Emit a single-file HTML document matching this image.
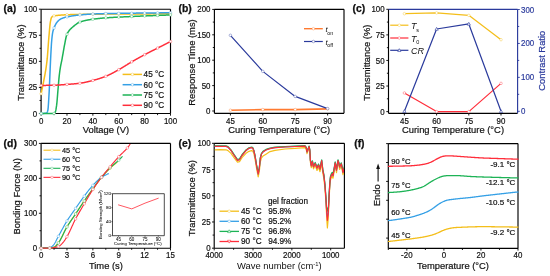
<!DOCTYPE html>
<html><head><meta charset="utf-8"><style>
html,body{margin:0;padding:0;background:#fff;}
svg{display:block;font-family:"Liberation Sans", sans-serif;filter:blur(0.25px);}
</style></head><body>
<svg width="550" height="276" viewBox="0 0 550 276">
<rect width="550" height="276" fill="#fff"/>
<line x1="41.10" y1="113.50" x2="170.50" y2="113.50" stroke="#000" stroke-width="1.15"/><line x1="41.10" y1="9.20" x2="41.10" y2="113.50" stroke="#000" stroke-width="1.15"/><line x1="41.10" y1="9.20" x2="170.50" y2="9.20" stroke="#000" stroke-width="1.15"/><line x1="170.50" y1="9.20" x2="170.50" y2="113.50" stroke="#000" stroke-width="1.15"/><line x1="41.10" y1="113.50" x2="41.10" y2="115.70" stroke="#000" stroke-width="0.9"/><line x1="66.98" y1="113.50" x2="66.98" y2="115.70" stroke="#000" stroke-width="0.9"/><line x1="92.86" y1="113.50" x2="92.86" y2="115.70" stroke="#000" stroke-width="0.9"/><line x1="118.74" y1="113.50" x2="118.74" y2="115.70" stroke="#000" stroke-width="0.9"/><line x1="144.62" y1="113.50" x2="144.62" y2="115.70" stroke="#000" stroke-width="0.9"/><line x1="170.50" y1="113.50" x2="170.50" y2="115.70" stroke="#000" stroke-width="0.9"/><line x1="54.04" y1="113.50" x2="54.04" y2="115.10" stroke="#000" stroke-width="0.9"/><line x1="79.92" y1="113.50" x2="79.92" y2="115.10" stroke="#000" stroke-width="0.9"/><line x1="105.80" y1="113.50" x2="105.80" y2="115.10" stroke="#000" stroke-width="0.9"/><line x1="131.68" y1="113.50" x2="131.68" y2="115.10" stroke="#000" stroke-width="0.9"/><line x1="157.56" y1="113.50" x2="157.56" y2="115.10" stroke="#000" stroke-width="0.9"/><text transform="translate(41.10 124.00) scale(0.92 1)" font-size="8.6" text-anchor="middle" fill="#111" stroke="#111" stroke-width="0.2">0</text><text transform="translate(66.98 124.00) scale(0.92 1)" font-size="8.6" text-anchor="middle" fill="#111" stroke="#111" stroke-width="0.2">20</text><text transform="translate(92.86 124.00) scale(0.92 1)" font-size="8.6" text-anchor="middle" fill="#111" stroke="#111" stroke-width="0.2">40</text><text transform="translate(118.74 124.00) scale(0.92 1)" font-size="8.6" text-anchor="middle" fill="#111" stroke="#111" stroke-width="0.2">60</text><text transform="translate(144.62 124.00) scale(0.92 1)" font-size="8.6" text-anchor="middle" fill="#111" stroke="#111" stroke-width="0.2">80</text><text transform="translate(170.50 124.00) scale(0.92 1)" font-size="8.6" text-anchor="middle" fill="#111" stroke="#111" stroke-width="0.2">100</text><line x1="41.10" y1="113.50" x2="38.90" y2="113.50" stroke="#000" stroke-width="0.9"/><line x1="41.10" y1="87.42" x2="38.90" y2="87.42" stroke="#000" stroke-width="0.9"/><line x1="41.10" y1="61.35" x2="38.90" y2="61.35" stroke="#000" stroke-width="0.9"/><line x1="41.10" y1="35.28" x2="38.90" y2="35.28" stroke="#000" stroke-width="0.9"/><line x1="41.10" y1="9.20" x2="38.90" y2="9.20" stroke="#000" stroke-width="0.9"/><line x1="41.10" y1="100.46" x2="39.50" y2="100.46" stroke="#000" stroke-width="0.9"/><line x1="41.10" y1="74.39" x2="39.50" y2="74.39" stroke="#000" stroke-width="0.9"/><line x1="41.10" y1="48.31" x2="39.50" y2="48.31" stroke="#000" stroke-width="0.9"/><line x1="41.10" y1="22.24" x2="39.50" y2="22.24" stroke="#000" stroke-width="0.9"/><text transform="translate(37.20 116.55) scale(0.92 1)" font-size="8.6" text-anchor="end" fill="#111" stroke="#111" stroke-width="0.2">0</text><text transform="translate(37.20 90.47) scale(0.92 1)" font-size="8.6" text-anchor="end" fill="#111" stroke="#111" stroke-width="0.2">25</text><text transform="translate(37.20 64.40) scale(0.92 1)" font-size="8.6" text-anchor="end" fill="#111" stroke="#111" stroke-width="0.2">50</text><text transform="translate(37.20 38.33) scale(0.92 1)" font-size="8.6" text-anchor="end" fill="#111" stroke="#111" stroke-width="0.2">75</text><text transform="translate(37.20 12.25) scale(0.92 1)" font-size="8.6" text-anchor="end" fill="#111" stroke="#111" stroke-width="0.2">100</text><text x="105.90" y="133.40" font-size="9.4" text-anchor="middle" fill="#111" stroke="#111" stroke-width="0.2" font-weight="normal" >Voltage (V)</text><text x="24.00" y="62.60" font-size="9.4" text-anchor="middle" fill="#111" stroke="#111" stroke-width="0.2" font-weight="normal" transform="rotate(-90 24.0 62.6)" >Transmittance (%)</text><text x="3.60" y="12.20" font-size="10.4" text-anchor="start" fill="#111" stroke="#111" stroke-width="0.25" font-weight="bold" >(a)</text><polyline points="41.10,93.79 41.42,92.23 41.75,90.70 42.07,89.18 42.39,87.66 42.72,86.11 43.04,84.52 43.36,82.88 43.69,81.17 44.01,79.43 44.34,77.72 44.66,76.01 44.98,74.26 45.31,72.45 45.63,70.55 45.95,68.52 46.28,66.34 46.60,63.98 46.92,61.40 47.25,58.45 47.57,54.66 47.89,50.32 48.22,45.76 48.54,41.33 48.86,37.36 49.19,33.61 49.51,29.83 49.83,26.32 50.16,23.40 50.48,21.38 50.80,19.82 51.13,18.51 51.45,17.56 51.78,17.06 52.10,16.77 52.42,16.53 52.75,16.34 53.07,16.18 53.39,16.05 53.72,15.95 54.04,15.88 54.36,15.81 54.69,15.75 55.01,15.70 55.33,15.64 55.66,15.60 55.98,15.55 56.30,15.51 56.63,15.48 56.95,15.44 57.28,15.41 57.60,15.38 57.92,15.35 58.25,15.32 58.57,15.30 58.89,15.27 59.22,15.25 59.54,15.22 59.86,15.20 60.19,15.17 60.51,15.15 60.83,15.12 61.16,15.09 61.48,15.07 61.80,15.04 62.13,15.02 62.45,14.99 62.77,14.97 63.10,14.94 63.42,14.92 63.75,14.90 64.07,14.88 64.39,14.86 64.72,14.84 65.04,14.82 65.36,14.80 65.69,14.78 66.01,14.77 66.33,14.75 66.66,14.74 66.98,14.73 67.30,14.72 67.63,14.70 67.95,14.69 68.27,14.68 68.60,14.67 68.92,14.66 69.24,14.65 69.57,14.64 69.89,14.63 70.22,14.62 70.54,14.61 70.86,14.60 71.19,14.59 71.51,14.59 71.83,14.58 72.16,14.57 72.48,14.56 72.80,14.55 73.13,14.55 73.45,14.54 73.77,14.53 74.10,14.52 74.42,14.52 74.74,14.51 75.07,14.50 75.39,14.50 75.71,14.49 76.04,14.48 76.36,14.48 76.69,14.47 77.01,14.47 77.33,14.46 77.66,14.45 77.98,14.45 78.30,14.44 78.63,14.44 78.95,14.43 79.27,14.43 79.60,14.42 79.92,14.42 80.24,14.41 80.57,14.40 80.89,14.40 81.21,14.39 81.54,14.39 81.86,14.38 82.18,14.38 82.51,14.37 82.83,14.37 83.16,14.36 83.48,14.36 83.80,14.35 84.13,14.35 84.45,14.34 84.77,14.34 85.10,14.33 85.42,14.33 85.74,14.32 86.07,14.32 86.39,14.31 86.71,14.31 87.04,14.30 87.36,14.30 87.68,14.30 88.01,14.29 88.33,14.29 88.65,14.28 88.98,14.28 89.30,14.27 89.62,14.27 89.95,14.26 90.27,14.26 90.60,14.26 90.92,14.25 91.24,14.25 91.57,14.24 91.89,14.24 92.21,14.24 92.54,14.23 92.86,14.23 93.18,14.22 93.51,14.22 93.83,14.22 94.15,14.21 94.48,14.21 94.80,14.21 95.12,14.20 95.45,14.20 95.77,14.19 96.09,14.19 96.42,14.19 96.74,14.18 97.07,14.18 97.39,14.18 97.71,14.17 98.04,14.17 98.36,14.17 98.68,14.16 99.01,14.16 99.33,14.16 99.65,14.15 99.98,14.15 100.30,14.15 100.62,14.15 100.95,14.14 101.27,14.14 101.59,14.14 101.92,14.13 102.24,14.13 102.56,14.13 102.89,14.13 103.21,14.12 103.54,14.12 103.86,14.12 104.18,14.11 104.51,14.11 104.83,14.11 105.15,14.11 105.48,14.10 105.80,14.10 106.12,14.10 106.45,14.10 106.77,14.10 107.09,14.09 107.42,14.09 107.74,14.09 108.06,14.09 108.39,14.08 108.71,14.08 109.03,14.08 109.36,14.08 109.68,14.07 110.01,14.07 110.33,14.07 110.65,14.07 110.98,14.07 111.30,14.06 111.62,14.06 111.95,14.06 112.27,14.06 112.59,14.06 112.92,14.05 113.24,14.05 113.56,14.05 113.89,14.05 114.21,14.05 114.53,14.04 114.86,14.04 115.18,14.04 115.50,14.04 115.83,14.04 116.15,14.03 116.48,14.03 116.80,14.03 117.12,14.03 117.45,14.03 117.77,14.02 118.09,14.02 118.42,14.02 118.74,14.02 119.06,14.02 119.39,14.01 119.71,14.01 120.03,14.01 120.36,14.01 120.68,14.01 121.00,14.01 121.33,14.00 121.65,14.00 121.97,14.00 122.30,14.00 122.62,14.00 122.95,14.00 123.27,13.99 123.59,13.99 123.92,13.99 124.24,13.99 124.56,13.99 124.89,13.99 125.21,13.98 125.53,13.98 125.86,13.98 126.18,13.98 126.50,13.98 126.83,13.98 127.15,13.97 127.47,13.97 127.80,13.97 128.12,13.97 128.44,13.97 128.77,13.97 129.09,13.97 129.42,13.96 129.74,13.96 130.06,13.96 130.39,13.96 130.71,13.96 131.03,13.96 131.36,13.95 131.68,13.95 132.00,13.95 132.33,13.95 132.65,13.95 132.97,13.95 133.30,13.95 133.62,13.94 133.94,13.94 134.27,13.94 134.59,13.94 134.91,13.94 135.24,13.94 135.56,13.94 135.89,13.93 136.21,13.93 136.53,13.93 136.86,13.93 137.18,13.93 137.50,13.93 137.83,13.93 138.15,13.93 138.47,13.92 138.80,13.92 139.12,13.92 139.44,13.92 139.77,13.92 140.09,13.92 140.41,13.92 140.74,13.91 141.06,13.91 141.38,13.91 141.71,13.91 142.03,13.91 142.36,13.91 142.68,13.91 143.00,13.91 143.33,13.90 143.65,13.90 143.97,13.90 144.30,13.90 144.62,13.90 144.94,13.90 145.27,13.90 145.59,13.89 145.91,13.89 146.24,13.89 146.56,13.89 146.88,13.89 147.21,13.89 147.53,13.89 147.86,13.89 148.18,13.88 148.50,13.88 148.83,13.88 149.15,13.88 149.47,13.88 149.80,13.88 150.12,13.88 150.44,13.88 150.77,13.87 151.09,13.87 151.41,13.87 151.74,13.87 152.06,13.87 152.38,13.87 152.71,13.87 153.03,13.86 153.35,13.86 153.68,13.86 154.00,13.86 154.33,13.86 154.65,13.86 154.97,13.86 155.30,13.86 155.62,13.85 155.94,13.85 156.27,13.85 156.59,13.85 156.91,13.85 157.24,13.85 157.56,13.85 157.88,13.85 158.21,13.84 158.53,13.84 158.85,13.84 159.18,13.84 159.50,13.84 159.82,13.84 160.15,13.84 160.47,13.83 160.80,13.83 161.12,13.83 161.44,13.83 161.77,13.83 162.09,13.83 162.41,13.83 162.74,13.82 163.06,13.82 163.38,13.82 163.71,13.82 164.03,13.82 164.35,13.82 164.68,13.82 165.00,13.81 165.32,13.81 165.65,13.81 165.97,13.81 166.29,13.81 166.62,13.81 166.94,13.81 167.27,13.80 167.59,13.80 167.91,13.80 168.24,13.80 168.56,13.80 168.88,13.80 169.21,13.80 169.53,13.79 169.85,13.79 170.18,13.79 170.50,13.79" fill="none" stroke="#f4be1a" stroke-width="1.5" stroke-linejoin="round" stroke-linecap="round" /><polyline points="41.10,113.50 41.42,113.48 41.75,113.47 42.07,113.45 42.39,113.44 42.72,113.43 43.04,113.42 43.36,113.41 43.69,113.40 44.01,113.38 44.34,113.37 44.66,113.35 44.98,113.32 45.31,113.30 45.63,113.27 45.95,113.23 46.28,113.19 46.60,113.02 46.92,112.61 47.25,111.99 47.57,111.16 47.89,110.10 48.22,107.31 48.54,102.71 48.86,97.17 49.19,91.50 49.51,84.73 49.83,76.89 50.16,68.88 50.48,61.60 50.80,55.26 51.13,49.16 51.45,43.83 51.78,39.80 52.10,36.63 52.42,34.04 52.75,32.15 53.07,30.80 53.39,29.71 53.72,28.81 54.04,27.97 54.36,27.17 54.69,26.39 55.01,25.66 55.33,24.97 55.66,24.33 55.98,23.74 56.30,23.22 56.63,22.76 56.95,22.34 57.28,21.94 57.60,21.57 57.92,21.21 58.25,20.87 58.57,20.55 58.89,20.25 59.22,19.98 59.54,19.72 59.86,19.49 60.19,19.29 60.51,19.11 60.83,18.94 61.16,18.79 61.48,18.64 61.80,18.50 62.13,18.36 62.45,18.23 62.77,18.11 63.10,17.99 63.42,17.88 63.75,17.77 64.07,17.67 64.39,17.57 64.72,17.48 65.04,17.39 65.36,17.30 65.69,17.22 66.01,17.14 66.33,17.06 66.66,16.99 66.98,16.92 67.30,16.85 67.63,16.78 67.95,16.71 68.27,16.64 68.60,16.58 68.92,16.51 69.24,16.45 69.57,16.39 69.89,16.33 70.22,16.27 70.54,16.21 70.86,16.15 71.19,16.10 71.51,16.04 71.83,15.99 72.16,15.93 72.48,15.88 72.80,15.83 73.13,15.78 73.45,15.73 73.77,15.68 74.10,15.64 74.42,15.59 74.74,15.54 75.07,15.50 75.39,15.46 75.71,15.41 76.04,15.37 76.36,15.33 76.69,15.29 77.01,15.25 77.33,15.21 77.66,15.18 77.98,15.14 78.30,15.10 78.63,15.07 78.95,15.04 79.27,15.00 79.60,14.97 79.92,14.94 80.24,14.90 80.57,14.87 80.89,14.84 81.21,14.81 81.54,14.78 81.86,14.75 82.18,14.72 82.51,14.69 82.83,14.67 83.16,14.64 83.48,14.61 83.80,14.58 84.13,14.56 84.45,14.53 84.77,14.50 85.10,14.48 85.42,14.45 85.74,14.43 86.07,14.40 86.39,14.38 86.71,14.36 87.04,14.33 87.36,14.31 87.68,14.29 88.01,14.27 88.33,14.25 88.65,14.23 88.98,14.21 89.30,14.19 89.62,14.17 89.95,14.15 90.27,14.13 90.60,14.11 90.92,14.09 91.24,14.08 91.57,14.06 91.89,14.04 92.21,14.03 92.54,14.01 92.86,14.00 93.18,13.98 93.51,13.97 93.83,13.96 94.15,13.94 94.48,13.93 94.80,13.91 95.12,13.90 95.45,13.89 95.77,13.88 96.09,13.86 96.42,13.85 96.74,13.84 97.07,13.83 97.39,13.82 97.71,13.80 98.04,13.79 98.36,13.78 98.68,13.77 99.01,13.76 99.33,13.75 99.65,13.74 99.98,13.73 100.30,13.72 100.62,13.71 100.95,13.70 101.27,13.69 101.59,13.68 101.92,13.67 102.24,13.66 102.56,13.66 102.89,13.65 103.21,13.64 103.54,13.63 103.86,13.62 104.18,13.62 104.51,13.61 104.83,13.60 105.15,13.59 105.48,13.59 105.80,13.58 106.12,13.57 106.45,13.57 106.77,13.56 107.09,13.55 107.42,13.55 107.74,13.54 108.06,13.54 108.39,13.53 108.71,13.52 109.03,13.52 109.36,13.51 109.68,13.50 110.01,13.50 110.33,13.49 110.65,13.49 110.98,13.48 111.30,13.48 111.62,13.47 111.95,13.46 112.27,13.46 112.59,13.45 112.92,13.45 113.24,13.44 113.56,13.44 113.89,13.43 114.21,13.42 114.53,13.42 114.86,13.41 115.18,13.41 115.50,13.40 115.83,13.40 116.15,13.39 116.48,13.39 116.80,13.38 117.12,13.38 117.45,13.37 117.77,13.37 118.09,13.36 118.42,13.36 118.74,13.35 119.06,13.35 119.39,13.34 119.71,13.34 120.03,13.33 120.36,13.33 120.68,13.32 121.00,13.32 121.33,13.31 121.65,13.31 121.97,13.30 122.30,13.30 122.62,13.29 122.95,13.29 123.27,13.29 123.59,13.28 123.92,13.28 124.24,13.27 124.56,13.27 124.89,13.26 125.21,13.26 125.53,13.25 125.86,13.25 126.18,13.25 126.50,13.24 126.83,13.24 127.15,13.23 127.47,13.23 127.80,13.23 128.12,13.22 128.44,13.22 128.77,13.21 129.09,13.21 129.42,13.20 129.74,13.20 130.06,13.20 130.39,13.19 130.71,13.19 131.03,13.19 131.36,13.18 131.68,13.18 132.00,13.17 132.33,13.17 132.65,13.17 132.97,13.16 133.30,13.16 133.62,13.15 133.94,13.15 134.27,13.15 134.59,13.14 134.91,13.14 135.24,13.14 135.56,13.13 135.89,13.13 136.21,13.12 136.53,13.12 136.86,13.12 137.18,13.11 137.50,13.11 137.83,13.11 138.15,13.10 138.47,13.10 138.80,13.10 139.12,13.09 139.44,13.09 139.77,13.09 140.09,13.08 140.41,13.08 140.74,13.07 141.06,13.07 141.38,13.07 141.71,13.06 142.03,13.06 142.36,13.06 142.68,13.05 143.00,13.05 143.33,13.05 143.65,13.04 143.97,13.04 144.30,13.04 144.62,13.03 144.94,13.03 145.27,13.03 145.59,13.02 145.91,13.02 146.24,13.02 146.56,13.01 146.88,13.01 147.21,13.01 147.53,13.00 147.86,13.00 148.18,13.00 148.50,12.99 148.83,12.99 149.15,12.99 149.47,12.98 149.80,12.98 150.12,12.98 150.44,12.97 150.77,12.97 151.09,12.97 151.41,12.96 151.74,12.96 152.06,12.96 152.38,12.95 152.71,12.95 153.03,12.95 153.35,12.94 153.68,12.94 154.00,12.94 154.33,12.93 154.65,12.93 154.97,12.93 155.30,12.92 155.62,12.92 155.94,12.91 156.27,12.91 156.59,12.91 156.91,12.90 157.24,12.90 157.56,12.90 157.88,12.89 158.21,12.89 158.53,12.89 158.85,12.88 159.18,12.88 159.50,12.88 159.82,12.87 160.15,12.87 160.47,12.87 160.80,12.86 161.12,12.86 161.44,12.85 161.77,12.85 162.09,12.85 162.41,12.84 162.74,12.84 163.06,12.84 163.38,12.83 163.71,12.83 164.03,12.83 164.35,12.82 164.68,12.82 165.00,12.81 165.32,12.81 165.65,12.81 165.97,12.80 166.29,12.80 166.62,12.79 166.94,12.79 167.27,12.79 167.59,12.78 167.91,12.78 168.24,12.77 168.56,12.77 168.88,12.77 169.21,12.76 169.53,12.76 169.85,12.75 170.18,12.75 170.50,12.75" fill="none" stroke="#35a0e6" stroke-width="1.5" stroke-linejoin="round" stroke-linecap="round" /><polyline points="41.10,113.50 41.42,113.50 41.75,113.50 42.07,113.50 42.39,113.50 42.72,113.50 43.04,113.50 43.36,113.50 43.69,113.50 44.01,113.50 44.34,113.50 44.66,113.50 44.98,113.50 45.31,113.50 45.63,113.50 45.95,113.50 46.28,113.50 46.60,113.50 46.92,113.50 47.25,113.50 47.57,113.50 47.89,113.50 48.22,113.50 48.54,113.50 48.86,113.50 49.19,113.50 49.51,113.50 49.83,113.50 50.16,113.50 50.48,113.50 50.80,113.50 51.13,113.50 51.45,113.50 51.78,113.50 52.10,113.50 52.42,113.50 52.75,113.50 53.07,113.50 53.39,113.50 53.72,113.50 54.04,113.50 54.36,113.37 54.69,113.04 55.01,112.54 55.33,111.94 55.66,110.95 55.98,109.39 56.30,107.40 56.63,105.16 56.95,102.26 57.28,98.52 57.60,94.45 57.92,90.55 58.25,86.75 58.57,82.86 58.89,79.16 59.22,75.95 59.54,73.23 59.86,70.77 60.19,68.55 60.51,66.56 60.83,64.85 61.16,63.34 61.48,61.88 61.80,60.31 62.13,58.56 62.45,56.73 62.77,54.86 63.10,53.01 63.42,51.14 63.75,49.26 64.07,47.42 64.39,45.70 64.72,44.04 65.04,42.33 65.36,40.64 65.69,39.01 66.01,37.50 66.33,36.17 66.66,35.06 66.98,34.23 67.30,33.58 67.63,32.98 67.95,32.41 68.27,31.88 68.60,31.39 68.92,30.93 69.24,30.50 69.57,30.09 69.89,29.71 70.22,29.35 70.54,29.01 70.86,28.69 71.19,28.38 71.51,28.08 71.83,27.79 72.16,27.51 72.48,27.24 72.80,26.96 73.13,26.69 73.45,26.41 73.77,26.13 74.10,25.85 74.42,25.58 74.74,25.31 75.07,25.04 75.39,24.78 75.71,24.52 76.04,24.28 76.36,24.03 76.69,23.80 77.01,23.57 77.33,23.36 77.66,23.15 77.98,22.95 78.30,22.77 78.63,22.59 78.95,22.43 79.27,22.28 79.60,22.15 79.92,22.03 80.24,21.92 80.57,21.81 80.89,21.70 81.21,21.60 81.54,21.50 81.86,21.40 82.18,21.31 82.51,21.22 82.83,21.13 83.16,21.04 83.48,20.95 83.80,20.87 84.13,20.79 84.45,20.71 84.77,20.64 85.10,20.56 85.42,20.49 85.74,20.42 86.07,20.35 86.39,20.28 86.71,20.22 87.04,20.16 87.36,20.09 87.68,20.03 88.01,19.97 88.33,19.92 88.65,19.86 88.98,19.81 89.30,19.75 89.62,19.70 89.95,19.65 90.27,19.60 90.60,19.55 90.92,19.50 91.24,19.45 91.57,19.40 91.89,19.35 92.21,19.31 92.54,19.26 92.86,19.21 93.18,19.17 93.51,19.12 93.83,19.08 94.15,19.04 94.48,18.99 94.80,18.95 95.12,18.91 95.45,18.87 95.77,18.83 96.09,18.79 96.42,18.75 96.74,18.71 97.07,18.67 97.39,18.63 97.71,18.60 98.04,18.56 98.36,18.53 98.68,18.49 99.01,18.46 99.33,18.42 99.65,18.39 99.98,18.36 100.30,18.33 100.62,18.29 100.95,18.26 101.27,18.23 101.59,18.20 101.92,18.17 102.24,18.14 102.56,18.11 102.89,18.09 103.21,18.06 103.54,18.03 103.86,18.01 104.18,17.98 104.51,17.95 104.83,17.93 105.15,17.90 105.48,17.88 105.80,17.86 106.12,17.83 106.45,17.81 106.77,17.79 107.09,17.77 107.42,17.74 107.74,17.72 108.06,17.70 108.39,17.68 108.71,17.66 109.03,17.64 109.36,17.61 109.68,17.59 110.01,17.57 110.33,17.55 110.65,17.53 110.98,17.51 111.30,17.49 111.62,17.47 111.95,17.46 112.27,17.44 112.59,17.42 112.92,17.40 113.24,17.38 113.56,17.36 113.89,17.34 114.21,17.33 114.53,17.31 114.86,17.29 115.18,17.27 115.50,17.26 115.83,17.24 116.15,17.22 116.48,17.21 116.80,17.19 117.12,17.17 117.45,17.16 117.77,17.14 118.09,17.12 118.42,17.11 118.74,17.09 119.06,17.08 119.39,17.06 119.71,17.05 120.03,17.03 120.36,17.02 120.68,17.00 121.00,16.98 121.33,16.97 121.65,16.95 121.97,16.94 122.30,16.92 122.62,16.91 122.95,16.89 123.27,16.88 123.59,16.87 123.92,16.85 124.24,16.84 124.56,16.82 124.89,16.81 125.21,16.79 125.53,16.78 125.86,16.76 126.18,16.75 126.50,16.73 126.83,16.72 127.15,16.71 127.47,16.69 127.80,16.68 128.12,16.66 128.44,16.65 128.77,16.63 129.09,16.62 129.42,16.60 129.74,16.59 130.06,16.57 130.39,16.56 130.71,16.55 131.03,16.53 131.36,16.52 131.68,16.50 132.00,16.49 132.33,16.47 132.65,16.46 132.97,16.44 133.30,16.43 133.62,16.41 133.94,16.40 134.27,16.38 134.59,16.37 134.91,16.36 135.24,16.34 135.56,16.33 135.89,16.31 136.21,16.30 136.53,16.28 136.86,16.27 137.18,16.26 137.50,16.24 137.83,16.23 138.15,16.21 138.47,16.20 138.80,16.19 139.12,16.17 139.44,16.16 139.77,16.15 140.09,16.13 140.41,16.12 140.74,16.11 141.06,16.09 141.38,16.08 141.71,16.07 142.03,16.05 142.36,16.04 142.68,16.03 143.00,16.01 143.33,16.00 143.65,15.99 143.97,15.97 144.30,15.96 144.62,15.95 144.94,15.93 145.27,15.92 145.59,15.91 145.91,15.90 146.24,15.88 146.56,15.87 146.88,15.86 147.21,15.84 147.53,15.83 147.86,15.82 148.18,15.81 148.50,15.79 148.83,15.78 149.15,15.77 149.47,15.75 149.80,15.74 150.12,15.73 150.44,15.72 150.77,15.70 151.09,15.69 151.41,15.68 151.74,15.67 152.06,15.65 152.38,15.64 152.71,15.63 153.03,15.62 153.35,15.60 153.68,15.59 154.00,15.58 154.33,15.57 154.65,15.55 154.97,15.54 155.30,15.53 155.62,15.52 155.94,15.50 156.27,15.49 156.59,15.48 156.91,15.47 157.24,15.45 157.56,15.44 157.88,15.43 158.21,15.42 158.53,15.40 158.85,15.39 159.18,15.38 159.50,15.37 159.82,15.35 160.15,15.34 160.47,15.33 160.80,15.32 161.12,15.30 161.44,15.29 161.77,15.28 162.09,15.27 162.41,15.25 162.74,15.24 163.06,15.23 163.38,15.22 163.71,15.20 164.03,15.19 164.35,15.18 164.68,15.17 165.00,15.15 165.32,15.14 165.65,15.13 165.97,15.12 166.29,15.10 166.62,15.09 166.94,15.08 167.27,15.07 167.59,15.05 167.91,15.04 168.24,15.03 168.56,15.01 168.88,15.00 169.21,14.99 169.53,14.98 169.85,14.96 170.18,14.95 170.50,14.94" fill="none" stroke="#1db356" stroke-width="1.5" stroke-linejoin="round" stroke-linecap="round" /><polyline points="41.10,85.44 41.42,85.44 41.75,85.43 42.07,85.43 42.39,85.42 42.72,85.42 43.04,85.41 43.36,85.41 43.69,85.41 44.01,85.40 44.34,85.40 44.66,85.39 44.98,85.39 45.31,85.38 45.63,85.38 45.95,85.38 46.28,85.37 46.60,85.37 46.92,85.36 47.25,85.36 47.57,85.35 47.89,85.35 48.22,85.35 48.54,85.34 48.86,85.34 49.19,85.33 49.51,85.33 49.83,85.32 50.16,85.32 50.48,85.31 50.80,85.30 51.13,85.30 51.45,85.29 51.78,85.29 52.10,85.28 52.42,85.27 52.75,85.27 53.07,85.26 53.39,85.25 53.72,85.24 54.04,85.23 54.36,85.23 54.69,85.22 55.01,85.20 55.33,85.19 55.66,85.18 55.98,85.17 56.30,85.15 56.63,85.14 56.95,85.12 57.28,85.10 57.60,85.08 57.92,85.07 58.25,85.05 58.57,85.03 58.89,85.01 59.22,84.99 59.54,84.96 59.86,84.94 60.19,84.92 60.51,84.90 60.83,84.87 61.16,84.85 61.48,84.83 61.80,84.80 62.13,84.78 62.45,84.75 62.77,84.73 63.10,84.70 63.42,84.68 63.75,84.65 64.07,84.63 64.39,84.60 64.72,84.57 65.04,84.55 65.36,84.52 65.69,84.50 66.01,84.47 66.33,84.45 66.66,84.42 66.98,84.40 67.30,84.38 67.63,84.35 67.95,84.33 68.27,84.30 68.60,84.28 68.92,84.26 69.24,84.23 69.57,84.21 69.89,84.19 70.22,84.16 70.54,84.14 70.86,84.11 71.19,84.09 71.51,84.06 71.83,84.04 72.16,84.01 72.48,83.99 72.80,83.96 73.13,83.94 73.45,83.91 73.77,83.88 74.10,83.86 74.42,83.83 74.74,83.80 75.07,83.77 75.39,83.74 75.71,83.71 76.04,83.68 76.36,83.65 76.69,83.62 77.01,83.58 77.33,83.55 77.66,83.52 77.98,83.48 78.30,83.45 78.63,83.41 78.95,83.37 79.27,83.33 79.60,83.29 79.92,83.25 80.24,83.21 80.57,83.17 80.89,83.12 81.21,83.07 81.54,83.02 81.86,82.97 82.18,82.92 82.51,82.86 82.83,82.80 83.16,82.74 83.48,82.68 83.80,82.62 84.13,82.55 84.45,82.49 84.77,82.42 85.10,82.35 85.42,82.28 85.74,82.21 86.07,82.14 86.39,82.06 86.71,81.99 87.04,81.91 87.36,81.83 87.68,81.76 88.01,81.68 88.33,81.60 88.65,81.52 88.98,81.44 89.30,81.36 89.62,81.27 89.95,81.19 90.27,81.11 90.60,81.02 90.92,80.94 91.24,80.86 91.57,80.77 91.89,80.69 92.21,80.61 92.54,80.52 92.86,80.44 93.18,80.35 93.51,80.27 93.83,80.18 94.15,80.09 94.48,80.01 94.80,79.92 95.12,79.83 95.45,79.74 95.77,79.64 96.09,79.55 96.42,79.46 96.74,79.36 97.07,79.27 97.39,79.17 97.71,79.07 98.04,78.97 98.36,78.87 98.68,78.77 99.01,78.67 99.33,78.57 99.65,78.46 99.98,78.36 100.30,78.25 100.62,78.15 100.95,78.04 101.27,77.93 101.59,77.82 101.92,77.70 102.24,77.59 102.56,77.48 102.89,77.36 103.21,77.24 103.54,77.13 103.86,77.01 104.18,76.89 104.51,76.76 104.83,76.64 105.15,76.52 105.48,76.39 105.80,76.26 106.12,76.14 106.45,76.00 106.77,75.87 107.09,75.73 107.42,75.59 107.74,75.45 108.06,75.30 108.39,75.16 108.71,75.01 109.03,74.86 109.36,74.70 109.68,74.55 110.01,74.39 110.33,74.23 110.65,74.07 110.98,73.90 111.30,73.74 111.62,73.57 111.95,73.40 112.27,73.23 112.59,73.06 112.92,72.89 113.24,72.72 113.56,72.55 113.89,72.37 114.21,72.20 114.53,72.02 114.86,71.84 115.18,71.66 115.50,71.49 115.83,71.31 116.15,71.13 116.48,70.95 116.80,70.77 117.12,70.59 117.45,70.41 117.77,70.23 118.09,70.05 118.42,69.87 118.74,69.69 119.06,69.51 119.39,69.33 119.71,69.15 120.03,68.96 120.36,68.78 120.68,68.59 121.00,68.40 121.33,68.21 121.65,68.01 121.97,67.82 122.30,67.62 122.62,67.43 122.95,67.23 123.27,67.03 123.59,66.83 123.92,66.63 124.24,66.43 124.56,66.23 124.89,66.03 125.21,65.83 125.53,65.63 125.86,65.42 126.18,65.22 126.50,65.02 126.83,64.82 127.15,64.62 127.47,64.41 127.80,64.21 128.12,64.01 128.44,63.81 128.77,63.61 129.09,63.42 129.42,63.22 129.74,63.02 130.06,62.83 130.39,62.63 130.71,62.44 131.03,62.25 131.36,62.06 131.68,61.87 132.00,61.68 132.33,61.50 132.65,61.31 132.97,61.12 133.30,60.94 133.62,60.75 133.94,60.57 134.27,60.38 134.59,60.20 134.91,60.01 135.24,59.83 135.56,59.65 135.89,59.46 136.21,59.28 136.53,59.10 136.86,58.92 137.18,58.74 137.50,58.56 137.83,58.38 138.15,58.19 138.47,58.01 138.80,57.84 139.12,57.66 139.44,57.48 139.77,57.30 140.09,57.12 140.41,56.94 140.74,56.77 141.06,56.59 141.38,56.41 141.71,56.24 142.03,56.06 142.36,55.89 142.68,55.71 143.00,55.54 143.33,55.37 143.65,55.19 143.97,55.02 144.30,54.85 144.62,54.67 144.94,54.50 145.27,54.33 145.59,54.16 145.91,53.99 146.24,53.82 146.56,53.66 146.88,53.49 147.21,53.32 147.53,53.16 147.86,52.99 148.18,52.82 148.50,52.66 148.83,52.50 149.15,52.33 149.47,52.17 149.80,52.00 150.12,51.84 150.44,51.68 150.77,51.51 151.09,51.35 151.41,51.19 151.74,51.03 152.06,50.87 152.38,50.70 152.71,50.54 153.03,50.38 153.35,50.22 153.68,50.06 154.00,49.89 154.33,49.73 154.65,49.57 154.97,49.41 155.30,49.25 155.62,49.08 155.94,48.92 156.27,48.76 156.59,48.60 156.91,48.43 157.24,48.27 157.56,48.10 157.88,47.94 158.21,47.78 158.53,47.61 158.85,47.45 159.18,47.28 159.50,47.12 159.82,46.95 160.15,46.79 160.47,46.63 160.80,46.46 161.12,46.30 161.44,46.13 161.77,45.97 162.09,45.80 162.41,45.64 162.74,45.48 163.06,45.31 163.38,45.15 163.71,44.98 164.03,44.82 164.35,44.65 164.68,44.49 165.00,44.33 165.32,44.16 165.65,44.00 165.97,43.83 166.29,43.67 166.62,43.50 166.94,43.34 167.27,43.18 167.59,43.01 167.91,42.85 168.24,42.68 168.56,42.52 168.88,42.35 169.21,42.19 169.53,42.03 169.85,41.86 170.18,41.70 170.50,41.53" fill="none" stroke="#ff2d3a" stroke-width="1.5" stroke-linejoin="round" stroke-linecap="round" /><circle cx="41.10" cy="93.79" r="1.3" fill="#fff" stroke="#f4be1a" stroke-opacity="0.6" stroke-width="0.6"/><circle cx="54.04" cy="15.88" r="1.3" fill="#fff" stroke="#f4be1a" stroke-opacity="0.6" stroke-width="0.6"/><circle cx="66.98" cy="14.73" r="1.3" fill="#fff" stroke="#f4be1a" stroke-opacity="0.6" stroke-width="0.6"/><circle cx="79.92" cy="14.42" r="1.3" fill="#fff" stroke="#f4be1a" stroke-opacity="0.6" stroke-width="0.6"/><circle cx="92.86" cy="14.23" r="1.3" fill="#fff" stroke="#f4be1a" stroke-opacity="0.6" stroke-width="0.6"/><circle cx="105.80" cy="14.10" r="1.3" fill="#fff" stroke="#f4be1a" stroke-opacity="0.6" stroke-width="0.6"/><circle cx="118.74" cy="14.02" r="1.3" fill="#fff" stroke="#f4be1a" stroke-opacity="0.6" stroke-width="0.6"/><circle cx="131.68" cy="13.95" r="1.3" fill="#fff" stroke="#f4be1a" stroke-opacity="0.6" stroke-width="0.6"/><circle cx="144.62" cy="13.90" r="1.3" fill="#fff" stroke="#f4be1a" stroke-opacity="0.6" stroke-width="0.6"/><circle cx="157.56" cy="13.85" r="1.3" fill="#fff" stroke="#f4be1a" stroke-opacity="0.6" stroke-width="0.6"/><circle cx="170.50" cy="13.79" r="1.3" fill="#fff" stroke="#f4be1a" stroke-opacity="0.6" stroke-width="0.6"/><circle cx="41.10" cy="113.50" r="1.3" fill="#fff" stroke="#35a0e6" stroke-opacity="0.6" stroke-width="0.6"/><circle cx="54.04" cy="27.97" r="1.3" fill="#fff" stroke="#35a0e6" stroke-opacity="0.6" stroke-width="0.6"/><circle cx="66.98" cy="16.92" r="1.3" fill="#fff" stroke="#35a0e6" stroke-opacity="0.6" stroke-width="0.6"/><circle cx="79.92" cy="14.94" r="1.3" fill="#fff" stroke="#35a0e6" stroke-opacity="0.6" stroke-width="0.6"/><circle cx="92.86" cy="14.00" r="1.3" fill="#fff" stroke="#35a0e6" stroke-opacity="0.6" stroke-width="0.6"/><circle cx="105.80" cy="13.58" r="1.3" fill="#fff" stroke="#35a0e6" stroke-opacity="0.6" stroke-width="0.6"/><circle cx="118.74" cy="13.35" r="1.3" fill="#fff" stroke="#35a0e6" stroke-opacity="0.6" stroke-width="0.6"/><circle cx="131.68" cy="13.18" r="1.3" fill="#fff" stroke="#35a0e6" stroke-opacity="0.6" stroke-width="0.6"/><circle cx="144.62" cy="13.03" r="1.3" fill="#fff" stroke="#35a0e6" stroke-opacity="0.6" stroke-width="0.6"/><circle cx="157.56" cy="12.90" r="1.3" fill="#fff" stroke="#35a0e6" stroke-opacity="0.6" stroke-width="0.6"/><circle cx="170.50" cy="12.75" r="1.3" fill="#fff" stroke="#35a0e6" stroke-opacity="0.6" stroke-width="0.6"/><circle cx="41.10" cy="113.50" r="1.3" fill="#fff" stroke="#1db356" stroke-opacity="0.6" stroke-width="0.6"/><circle cx="54.04" cy="113.50" r="1.3" fill="#fff" stroke="#1db356" stroke-opacity="0.6" stroke-width="0.6"/><circle cx="66.98" cy="34.23" r="1.3" fill="#fff" stroke="#1db356" stroke-opacity="0.6" stroke-width="0.6"/><circle cx="79.92" cy="22.03" r="1.3" fill="#fff" stroke="#1db356" stroke-opacity="0.6" stroke-width="0.6"/><circle cx="92.86" cy="19.21" r="1.3" fill="#fff" stroke="#1db356" stroke-opacity="0.6" stroke-width="0.6"/><circle cx="105.80" cy="17.86" r="1.3" fill="#fff" stroke="#1db356" stroke-opacity="0.6" stroke-width="0.6"/><circle cx="118.74" cy="17.09" r="1.3" fill="#fff" stroke="#1db356" stroke-opacity="0.6" stroke-width="0.6"/><circle cx="131.68" cy="16.50" r="1.3" fill="#fff" stroke="#1db356" stroke-opacity="0.6" stroke-width="0.6"/><circle cx="144.62" cy="15.95" r="1.3" fill="#fff" stroke="#1db356" stroke-opacity="0.6" stroke-width="0.6"/><circle cx="157.56" cy="15.44" r="1.3" fill="#fff" stroke="#1db356" stroke-opacity="0.6" stroke-width="0.6"/><circle cx="170.50" cy="14.94" r="1.3" fill="#fff" stroke="#1db356" stroke-opacity="0.6" stroke-width="0.6"/><circle cx="41.10" cy="85.44" r="1.3" fill="#fff" stroke="#ff2d3a" stroke-opacity="0.6" stroke-width="0.6"/><circle cx="54.04" cy="85.23" r="1.3" fill="#fff" stroke="#ff2d3a" stroke-opacity="0.6" stroke-width="0.6"/><circle cx="66.98" cy="84.40" r="1.3" fill="#fff" stroke="#ff2d3a" stroke-opacity="0.6" stroke-width="0.6"/><circle cx="79.92" cy="83.25" r="1.3" fill="#fff" stroke="#ff2d3a" stroke-opacity="0.6" stroke-width="0.6"/><circle cx="92.86" cy="80.44" r="1.3" fill="#fff" stroke="#ff2d3a" stroke-opacity="0.6" stroke-width="0.6"/><circle cx="105.80" cy="76.26" r="1.3" fill="#fff" stroke="#ff2d3a" stroke-opacity="0.6" stroke-width="0.6"/><circle cx="118.74" cy="69.69" r="1.3" fill="#fff" stroke="#ff2d3a" stroke-opacity="0.6" stroke-width="0.6"/><circle cx="131.68" cy="61.87" r="1.3" fill="#fff" stroke="#ff2d3a" stroke-opacity="0.6" stroke-width="0.6"/><circle cx="144.62" cy="54.67" r="1.3" fill="#fff" stroke="#ff2d3a" stroke-opacity="0.6" stroke-width="0.6"/><circle cx="157.56" cy="48.10" r="1.3" fill="#fff" stroke="#ff2d3a" stroke-opacity="0.6" stroke-width="0.6"/><circle cx="170.50" cy="41.53" r="1.3" fill="#fff" stroke="#ff2d3a" stroke-opacity="0.6" stroke-width="0.6"/><line x1="122.60" y1="74.40" x2="142.00" y2="74.40" stroke="#f4be1a" stroke-width="1.5"/><circle cx="132.40" cy="74.40" r="1.3" fill="#fff" stroke="#f4be1a" stroke-opacity="0.6" stroke-width="0.6"/><text x="143.60" y="77.30" font-size="8.2" text-anchor="start" fill="#111" stroke="#111" stroke-width="0.2" font-weight="normal" >45 °C</text><line x1="122.60" y1="84.70" x2="142.00" y2="84.70" stroke="#35a0e6" stroke-width="1.5"/><circle cx="132.40" cy="84.70" r="1.3" fill="#fff" stroke="#35a0e6" stroke-opacity="0.6" stroke-width="0.6"/><text x="143.60" y="87.60" font-size="8.2" text-anchor="start" fill="#111" stroke="#111" stroke-width="0.2" font-weight="normal" >60 °C</text><line x1="122.60" y1="95.00" x2="142.00" y2="95.00" stroke="#1db356" stroke-width="1.5"/><circle cx="132.40" cy="95.00" r="1.3" fill="#fff" stroke="#1db356" stroke-opacity="0.6" stroke-width="0.6"/><text x="143.60" y="97.90" font-size="8.2" text-anchor="start" fill="#111" stroke="#111" stroke-width="0.2" font-weight="normal" >75 °C</text><line x1="122.60" y1="105.30" x2="142.00" y2="105.30" stroke="#ff2d3a" stroke-width="1.5"/><circle cx="132.40" cy="105.30" r="1.3" fill="#fff" stroke="#ff2d3a" stroke-opacity="0.6" stroke-width="0.6"/><text x="143.60" y="108.20" font-size="8.2" text-anchor="start" fill="#111" stroke="#111" stroke-width="0.2" font-weight="normal" >90 °C</text><line x1="214.40" y1="113.30" x2="344.00" y2="113.30" stroke="#000" stroke-width="1.15"/><line x1="214.40" y1="9.30" x2="214.40" y2="113.30" stroke="#000" stroke-width="1.15"/><line x1="214.40" y1="9.30" x2="344.00" y2="9.30" stroke="#000" stroke-width="1.15"/><line x1="344.00" y1="9.30" x2="344.00" y2="113.30" stroke="#000" stroke-width="1.15"/><line x1="230.40" y1="113.30" x2="230.40" y2="115.50" stroke="#000" stroke-width="0.9"/><line x1="262.80" y1="113.30" x2="262.80" y2="115.50" stroke="#000" stroke-width="0.9"/><line x1="295.20" y1="113.30" x2="295.20" y2="115.50" stroke="#000" stroke-width="0.9"/><line x1="327.60" y1="113.30" x2="327.60" y2="115.50" stroke="#000" stroke-width="0.9"/><text transform="translate(230.40 124.00) scale(0.92 1)" font-size="8.6" text-anchor="middle" fill="#111" stroke="#111" stroke-width="0.2">45</text><text transform="translate(262.80 124.00) scale(0.92 1)" font-size="8.6" text-anchor="middle" fill="#111" stroke="#111" stroke-width="0.2">60</text><text transform="translate(295.20 124.00) scale(0.92 1)" font-size="8.6" text-anchor="middle" fill="#111" stroke="#111" stroke-width="0.2">75</text><text transform="translate(327.60 124.00) scale(0.92 1)" font-size="8.6" text-anchor="middle" fill="#111" stroke="#111" stroke-width="0.2">90</text><line x1="214.40" y1="111.00" x2="212.20" y2="111.00" stroke="#000" stroke-width="0.9"/><line x1="214.40" y1="85.60" x2="212.20" y2="85.60" stroke="#000" stroke-width="0.9"/><line x1="214.40" y1="60.20" x2="212.20" y2="60.20" stroke="#000" stroke-width="0.9"/><line x1="214.40" y1="34.80" x2="212.20" y2="34.80" stroke="#000" stroke-width="0.9"/><line x1="214.40" y1="9.40" x2="212.20" y2="9.40" stroke="#000" stroke-width="0.9"/><line x1="214.40" y1="98.30" x2="212.80" y2="98.30" stroke="#000" stroke-width="0.9"/><line x1="214.40" y1="72.90" x2="212.80" y2="72.90" stroke="#000" stroke-width="0.9"/><line x1="214.40" y1="47.50" x2="212.80" y2="47.50" stroke="#000" stroke-width="0.9"/><line x1="214.40" y1="22.10" x2="212.80" y2="22.10" stroke="#000" stroke-width="0.9"/><text transform="translate(210.50 114.05) scale(0.92 1)" font-size="8.6" text-anchor="end" fill="#111" stroke="#111" stroke-width="0.2">0</text><text transform="translate(210.50 88.65) scale(0.92 1)" font-size="8.6" text-anchor="end" fill="#111" stroke="#111" stroke-width="0.2">50</text><text transform="translate(210.50 63.25) scale(0.92 1)" font-size="8.6" text-anchor="end" fill="#111" stroke="#111" stroke-width="0.2">100</text><text transform="translate(210.50 37.85) scale(0.92 1)" font-size="8.6" text-anchor="end" fill="#111" stroke="#111" stroke-width="0.2">150</text><text transform="translate(210.50 12.45) scale(0.92 1)" font-size="8.6" text-anchor="end" fill="#111" stroke="#111" stroke-width="0.2">200</text><text x="279.20" y="133.40" font-size="9.4" text-anchor="middle" fill="#111" stroke="#111" stroke-width="0.2" font-weight="normal" >Curing Temperature (°C)</text><text x="194.90" y="62.50" font-size="9.4" text-anchor="middle" fill="#111" stroke="#111" stroke-width="0.2" font-weight="normal" transform="rotate(-90 194.9 62.5)" >Response Time (ms)</text><text x="178.50" y="12.20" font-size="10.4" text-anchor="start" fill="#111" stroke="#111" stroke-width="0.25" font-weight="bold" >(b)</text><polyline points="230.40,110.19 262.80,109.58 295.20,109.58 327.60,108.87" fill="none" stroke="#ff7a30" stroke-width="1.6" stroke-linejoin="round" stroke-linecap="round" /><polyline points="230.40,35.31 262.80,71.38 295.20,96.42 327.60,108.61" fill="none" stroke="#2a3a9c" stroke-width="1.2" stroke-linejoin="round" stroke-linecap="round" /><circle cx="230.40" cy="110.19" r="1.3" fill="#fff" stroke="#ff7a30" stroke-opacity="0.6" stroke-width="0.6"/><circle cx="262.80" cy="109.58" r="1.3" fill="#fff" stroke="#ff7a30" stroke-opacity="0.6" stroke-width="0.6"/><circle cx="295.20" cy="109.58" r="1.3" fill="#fff" stroke="#ff7a30" stroke-opacity="0.6" stroke-width="0.6"/><circle cx="327.60" cy="108.87" r="1.3" fill="#fff" stroke="#ff7a30" stroke-opacity="0.6" stroke-width="0.6"/><circle cx="230.40" cy="35.31" r="1.3" fill="#fff" stroke="#2a3a9c" stroke-opacity="0.6" stroke-width="0.6"/><circle cx="262.80" cy="71.38" r="1.3" fill="#fff" stroke="#2a3a9c" stroke-opacity="0.6" stroke-width="0.6"/><circle cx="295.20" cy="96.42" r="1.3" fill="#fff" stroke="#2a3a9c" stroke-opacity="0.6" stroke-width="0.6"/><circle cx="327.60" cy="108.61" r="1.3" fill="#fff" stroke="#2a3a9c" stroke-opacity="0.6" stroke-width="0.6"/><line x1="304.00" y1="28.70" x2="322.80" y2="28.70" stroke="#ff7a30" stroke-width="1.4"/><circle cx="313.40" cy="28.70" r="1.3" fill="#fff" stroke="#ff7a30" stroke-opacity="0.6" stroke-width="0.6"/><line x1="304.00" y1="41.50" x2="322.80" y2="41.50" stroke="#2a3a9c" stroke-width="1.2"/><circle cx="313.40" cy="41.50" r="1.3" fill="#fff" stroke="#2a3a9c" stroke-opacity="0.6" stroke-width="0.6"/><text x="325.6" y="32.0" font-size="7.8" fill="#111" font-style="italic">t</text><text x="327.2" y="34.6" font-size="5.4" fill="#111">on</text><text x="325.6" y="44.6" font-size="7.8" fill="#111" font-style="italic">t</text><text x="327.2" y="47.2" font-size="5.4" fill="#111">off</text><line x1="388.50" y1="113.30" x2="517.60" y2="113.30" stroke="#000" stroke-width="1.15"/><line x1="388.50" y1="9.30" x2="388.50" y2="113.30" stroke="#000" stroke-width="1.15"/><line x1="388.50" y1="9.30" x2="517.60" y2="9.30" stroke="#2a3a9c" stroke-width="1.15"/><line x1="517.60" y1="9.30" x2="517.60" y2="113.30" stroke="#2a3a9c" stroke-width="1.15"/><line x1="404.40" y1="113.30" x2="404.40" y2="115.50" stroke="#000" stroke-width="0.9"/><line x1="436.60" y1="113.30" x2="436.60" y2="115.50" stroke="#000" stroke-width="0.9"/><line x1="468.81" y1="113.30" x2="468.81" y2="115.50" stroke="#000" stroke-width="0.9"/><line x1="501.01" y1="113.30" x2="501.01" y2="115.50" stroke="#000" stroke-width="0.9"/><text transform="translate(404.40 124.00) scale(0.92 1)" font-size="8.6" text-anchor="middle" fill="#111" stroke="#111" stroke-width="0.2">45</text><text transform="translate(436.60 124.00) scale(0.92 1)" font-size="8.6" text-anchor="middle" fill="#111" stroke="#111" stroke-width="0.2">60</text><text transform="translate(468.81 124.00) scale(0.92 1)" font-size="8.6" text-anchor="middle" fill="#111" stroke="#111" stroke-width="0.2">75</text><text transform="translate(501.01 124.00) scale(0.92 1)" font-size="8.6" text-anchor="middle" fill="#111" stroke="#111" stroke-width="0.2">90</text><line x1="388.50" y1="111.60" x2="386.30" y2="111.60" stroke="#000" stroke-width="0.9"/><line x1="388.50" y1="86.02" x2="386.30" y2="86.02" stroke="#000" stroke-width="0.9"/><line x1="388.50" y1="60.45" x2="386.30" y2="60.45" stroke="#000" stroke-width="0.9"/><line x1="388.50" y1="34.88" x2="386.30" y2="34.88" stroke="#000" stroke-width="0.9"/><line x1="388.50" y1="9.30" x2="386.30" y2="9.30" stroke="#000" stroke-width="0.9"/><line x1="388.50" y1="98.81" x2="386.90" y2="98.81" stroke="#000" stroke-width="0.9"/><line x1="388.50" y1="73.24" x2="386.90" y2="73.24" stroke="#000" stroke-width="0.9"/><line x1="388.50" y1="47.66" x2="386.90" y2="47.66" stroke="#000" stroke-width="0.9"/><line x1="388.50" y1="22.09" x2="386.90" y2="22.09" stroke="#000" stroke-width="0.9"/><text transform="translate(384.60 114.65) scale(0.92 1)" font-size="8.6" text-anchor="end" fill="#111" stroke="#111" stroke-width="0.2">0</text><text transform="translate(384.60 89.07) scale(0.92 1)" font-size="8.6" text-anchor="end" fill="#111" stroke="#111" stroke-width="0.2">25</text><text transform="translate(384.60 63.50) scale(0.92 1)" font-size="8.6" text-anchor="end" fill="#111" stroke="#111" stroke-width="0.2">50</text><text transform="translate(384.60 37.92) scale(0.92 1)" font-size="8.6" text-anchor="end" fill="#111" stroke="#111" stroke-width="0.2">75</text><text transform="translate(384.60 12.35) scale(0.92 1)" font-size="8.6" text-anchor="end" fill="#111" stroke="#111" stroke-width="0.2">100</text><line x1="517.60" y1="111.30" x2="519.80" y2="111.30" stroke="#2a3a9c" stroke-width="0.9"/><line x1="517.60" y1="77.37" x2="519.80" y2="77.37" stroke="#2a3a9c" stroke-width="0.9"/><line x1="517.60" y1="43.44" x2="519.80" y2="43.44" stroke="#2a3a9c" stroke-width="0.9"/><line x1="517.60" y1="9.51" x2="519.80" y2="9.51" stroke="#2a3a9c" stroke-width="0.9"/><line x1="517.60" y1="94.33" x2="519.20" y2="94.33" stroke="#2a3a9c" stroke-width="0.9"/><line x1="517.60" y1="60.41" x2="519.20" y2="60.41" stroke="#2a3a9c" stroke-width="0.9"/><line x1="517.60" y1="26.47" x2="519.20" y2="26.47" stroke="#2a3a9c" stroke-width="0.9"/><text transform="translate(521.00 114.35) scale(0.92 1)" font-size="8.6" text-anchor="start" fill="#2a3a9c" stroke="#2a3a9c" stroke-width="0.2">0</text><text transform="translate(521.00 80.42) scale(0.92 1)" font-size="8.6" text-anchor="start" fill="#2a3a9c" stroke="#2a3a9c" stroke-width="0.2">100</text><text transform="translate(521.00 46.49) scale(0.92 1)" font-size="8.6" text-anchor="start" fill="#2a3a9c" stroke="#2a3a9c" stroke-width="0.2">200</text><text transform="translate(521.00 12.56) scale(0.92 1)" font-size="8.6" text-anchor="start" fill="#2a3a9c" stroke="#2a3a9c" stroke-width="0.2">300</text><text x="453.00" y="133.40" font-size="9.4" text-anchor="middle" fill="#111" stroke="#111" stroke-width="0.2" font-weight="normal" >Curing Temperature (°C)</text><text x="370.40" y="62.75" font-size="9.4" text-anchor="middle" fill="#111" stroke="#111" stroke-width="0.2" font-weight="normal" transform="rotate(-90 370.4 62.75)" >Transmittance (%)</text><text x="545.00" y="60.70" font-size="9.4" text-anchor="middle" fill="#2a3a9c" stroke="#2a3a9c" stroke-width="0.2" font-weight="normal" transform="rotate(-90 545.0 60.7)" >Contrast Ratio</text><text x="352.60" y="12.20" font-size="10.4" text-anchor="start" fill="#111" stroke="#111" stroke-width="0.25" font-weight="bold" >(c)</text><polyline points="404.40,13.70 436.60,12.88 468.81,15.34 501.01,39.68" fill="none" stroke="#f4be1a" stroke-width="1.2" stroke-linejoin="round" stroke-linecap="round" /><polyline points="404.40,92.98 436.60,111.60 468.81,111.60 501.01,83.37" fill="none" stroke="#ff2d3a" stroke-width="1.2" stroke-linejoin="round" stroke-linecap="round" /><polyline points="404.40,111.30 436.60,29.02 468.81,23.93 501.01,111.30" fill="none" stroke="#2a3a9c" stroke-width="1.2" stroke-linejoin="round" stroke-linecap="round" /><circle cx="404.40" cy="13.70" r="1.3" fill="#fff" stroke="#f4be1a" stroke-opacity="0.6" stroke-width="0.6"/><circle cx="436.60" cy="12.88" r="1.3" fill="#fff" stroke="#f4be1a" stroke-opacity="0.6" stroke-width="0.6"/><circle cx="468.81" cy="15.34" r="1.3" fill="#fff" stroke="#f4be1a" stroke-opacity="0.6" stroke-width="0.6"/><circle cx="501.01" cy="39.68" r="1.3" fill="#fff" stroke="#f4be1a" stroke-opacity="0.6" stroke-width="0.6"/><circle cx="404.40" cy="92.98" r="1.3" fill="#fff" stroke="#ff2d3a" stroke-opacity="0.6" stroke-width="0.6"/><circle cx="436.60" cy="111.60" r="1.3" fill="#fff" stroke="#ff2d3a" stroke-opacity="0.6" stroke-width="0.6"/><circle cx="468.81" cy="111.60" r="1.3" fill="#fff" stroke="#ff2d3a" stroke-opacity="0.6" stroke-width="0.6"/><circle cx="501.01" cy="83.37" r="1.3" fill="#fff" stroke="#ff2d3a" stroke-opacity="0.6" stroke-width="0.6"/><polygon points="404.40,109.67 406.02,112.52 402.77,112.52" fill="#fff" stroke="#2a3a9c" stroke-width="0.6"/><polygon points="436.60,27.39 438.23,30.24 434.98,30.24" fill="#fff" stroke="#2a3a9c" stroke-width="0.6"/><polygon points="468.81,22.31 470.43,25.15 467.18,25.15" fill="#fff" stroke="#2a3a9c" stroke-width="0.6"/><polygon points="501.01,109.67 502.64,112.52 499.39,112.52" fill="#fff" stroke="#2a3a9c" stroke-width="0.6"/><line x1="390.20" y1="25.20" x2="408.40" y2="25.20" stroke="#f4be1a" stroke-width="1.2"/><circle cx="399.30" cy="25.20" r="1.3" fill="#fff" stroke="#f4be1a" stroke-opacity="0.6" stroke-width="0.6"/><line x1="390.20" y1="38.00" x2="408.40" y2="38.00" stroke="#ff2d3a" stroke-width="1.2"/><circle cx="399.30" cy="38.00" r="1.3" fill="#fff" stroke="#ff2d3a" stroke-opacity="0.6" stroke-width="0.6"/><line x1="390.20" y1="50.30" x2="408.40" y2="50.30" stroke="#2a3a9c" stroke-width="1.2"/><polygon points="399.30,48.67 400.93,51.52 397.68,51.52" fill="#fff" stroke="#2a3a9c" stroke-width="0.6"/><text x="411.0" y="29.0" font-size="9" fill="#111" font-style="italic">T</text><text x="416.2" y="32.0" font-size="5.5" fill="#111">s</text><text x="411.0" y="41.5" font-size="9" fill="#111" font-style="italic">T</text><text x="416.2" y="44.2" font-size="5.5" fill="#111">0</text><text x="411.0" y="53.8" font-size="9" fill="#111" font-style="italic">CR</text><line x1="41.10" y1="248.20" x2="170.50" y2="248.20" stroke="#000" stroke-width="1.15"/><line x1="41.10" y1="143.40" x2="41.10" y2="248.20" stroke="#000" stroke-width="1.15"/><line x1="41.10" y1="143.40" x2="170.50" y2="143.40" stroke="#000" stroke-width="1.15"/><line x1="170.50" y1="143.40" x2="170.50" y2="248.20" stroke="#000" stroke-width="1.15"/><line x1="41.10" y1="248.20" x2="41.10" y2="250.40" stroke="#000" stroke-width="0.9"/><line x1="66.98" y1="248.20" x2="66.98" y2="250.40" stroke="#000" stroke-width="0.9"/><line x1="92.86" y1="248.20" x2="92.86" y2="250.40" stroke="#000" stroke-width="0.9"/><line x1="118.74" y1="248.20" x2="118.74" y2="250.40" stroke="#000" stroke-width="0.9"/><line x1="144.62" y1="248.20" x2="144.62" y2="250.40" stroke="#000" stroke-width="0.9"/><line x1="170.50" y1="248.20" x2="170.50" y2="250.40" stroke="#000" stroke-width="0.9"/><line x1="54.04" y1="248.20" x2="54.04" y2="249.80" stroke="#000" stroke-width="0.9"/><line x1="79.92" y1="248.20" x2="79.92" y2="249.80" stroke="#000" stroke-width="0.9"/><line x1="105.80" y1="248.20" x2="105.80" y2="249.80" stroke="#000" stroke-width="0.9"/><line x1="131.68" y1="248.20" x2="131.68" y2="249.80" stroke="#000" stroke-width="0.9"/><line x1="157.56" y1="248.20" x2="157.56" y2="249.80" stroke="#000" stroke-width="0.9"/><text transform="translate(41.10 258.00) scale(0.92 1)" font-size="8.6" text-anchor="middle" fill="#111" stroke="#111" stroke-width="0.2">0</text><text transform="translate(66.98 258.00) scale(0.92 1)" font-size="8.6" text-anchor="middle" fill="#111" stroke="#111" stroke-width="0.2">3</text><text transform="translate(92.86 258.00) scale(0.92 1)" font-size="8.6" text-anchor="middle" fill="#111" stroke="#111" stroke-width="0.2">6</text><text transform="translate(118.74 258.00) scale(0.92 1)" font-size="8.6" text-anchor="middle" fill="#111" stroke="#111" stroke-width="0.2">9</text><text transform="translate(144.62 258.00) scale(0.92 1)" font-size="8.6" text-anchor="middle" fill="#111" stroke="#111" stroke-width="0.2">12</text><text transform="translate(170.50 258.00) scale(0.92 1)" font-size="8.6" text-anchor="middle" fill="#111" stroke="#111" stroke-width="0.2">15</text><line x1="41.10" y1="248.20" x2="38.90" y2="248.20" stroke="#000" stroke-width="0.9"/><line x1="41.10" y1="213.27" x2="38.90" y2="213.27" stroke="#000" stroke-width="0.9"/><line x1="41.10" y1="178.34" x2="38.90" y2="178.34" stroke="#000" stroke-width="0.9"/><line x1="41.10" y1="143.41" x2="38.90" y2="143.41" stroke="#000" stroke-width="0.9"/><line x1="41.10" y1="230.73" x2="39.50" y2="230.73" stroke="#000" stroke-width="0.9"/><line x1="41.10" y1="195.80" x2="39.50" y2="195.80" stroke="#000" stroke-width="0.9"/><line x1="41.10" y1="160.88" x2="39.50" y2="160.88" stroke="#000" stroke-width="0.9"/><text transform="translate(37.20 251.25) scale(0.92 1)" font-size="8.6" text-anchor="end" fill="#111" stroke="#111" stroke-width="0.2">0</text><text transform="translate(37.20 216.32) scale(0.92 1)" font-size="8.6" text-anchor="end" fill="#111" stroke="#111" stroke-width="0.2">100</text><text transform="translate(37.20 181.39) scale(0.92 1)" font-size="8.6" text-anchor="end" fill="#111" stroke="#111" stroke-width="0.2">200</text><text transform="translate(37.20 146.46) scale(0.92 1)" font-size="8.6" text-anchor="end" fill="#111" stroke="#111" stroke-width="0.2">300</text><text x="105.90" y="269.20" font-size="9.4" text-anchor="middle" fill="#111" stroke="#111" stroke-width="0.2" font-weight="normal" >Time (s)</text><text x="20.00" y="196.30" font-size="9.4" text-anchor="middle" fill="#111" stroke="#111" stroke-width="0.2" font-weight="normal" transform="rotate(-90 20.0 196.3)" >Bonding Force (N)</text><text x="3.60" y="147.20" font-size="10.4" text-anchor="start" fill="#111" stroke="#111" stroke-width="0.25" font-weight="bold" >(d)</text><polyline points="41.10,248.20 41.53,248.19 41.96,248.18 42.39,248.18 42.83,248.17 43.26,248.16 43.69,248.16 44.12,248.15 44.55,248.15 44.98,248.14 45.41,248.13 45.84,248.13 46.28,248.12 46.71,248.11 47.14,248.10 47.57,248.09 48.00,248.08 48.43,248.07 48.86,248.06 49.30,248.04 49.73,248.03 50.16,248.00 50.59,247.96 51.02,247.90 51.45,247.83 51.88,247.75 52.32,247.65 52.75,247.54 53.18,247.42 53.61,247.29 54.04,247.15 54.47,246.96 54.90,246.69 55.33,246.34 55.77,245.93 56.20,245.47 56.63,244.97 57.06,244.44 57.49,243.89 57.92,243.34 58.35,242.79 58.79,242.21 59.22,241.58 59.65,240.90 60.08,240.17 60.51,239.41 60.94,238.61 61.37,237.78 61.80,236.93 62.24,236.06 62.67,235.17 63.10,234.28 63.53,233.39 63.96,232.49 64.39,231.60 64.82,230.73 65.26,229.87 65.69,229.04 66.12,228.23 66.55,227.45 66.98,226.72 67.41,226.01 67.84,225.31 68.28,224.63 68.71,223.95 69.14,223.29 69.57,222.63 70.00,221.99 70.43,221.35 70.86,220.71 71.29,220.08 71.73,219.45 72.16,218.83 72.59,218.21 73.02,217.58 73.45,216.96 73.88,216.33 74.31,215.71 74.75,215.07 75.18,214.44 75.61,213.79 76.04,213.15 76.47,212.50 76.90,211.85 77.33,211.19 77.76,210.54 78.20,209.89 78.63,209.23 79.06,208.58 79.49,207.93 79.92,207.28 80.35,206.62 80.78,205.97 81.22,205.33 81.65,204.68 82.08,204.04 82.51,203.40 82.94,202.76 83.37,202.13 83.80,201.50 84.24,200.87 84.67,200.25 85.10,199.63 85.53,199.01 85.96,198.40 86.39,197.79 86.82,197.18 87.25,196.57 87.69,195.96 88.12,195.36 88.55,194.76 88.98,194.16 89.41,193.56 89.84,192.96 90.27,192.37 90.71,191.77 91.14,191.18 91.57,190.59 92.00,190.00 92.43,189.41 92.86,188.82 93.29,188.23 93.72,187.63 94.16,187.04 94.59,186.44 95.02,185.84 95.45,185.24 95.88,184.64 96.31,184.04 96.74,183.44 97.18,182.85 97.61,182.26 98.04,181.68 98.47,181.10 98.90,180.53 99.33,179.97 99.76,179.41 100.19,178.87 100.63,178.33 101.06,177.81 101.49,177.29 101.92,176.79 102.35,176.29 102.78,175.80 103.21,175.31 103.65,174.83 104.08,174.35 104.51,173.88 104.94,173.41 105.37,172.95 105.80,172.50 106.23,172.05 106.67,171.60 107.10,171.16 107.53,170.73 107.96,170.30 108.39,169.87 108.82,169.45 109.25,169.03 109.68,168.62 110.12,168.21 110.55,167.81 110.98,167.41 111.41,167.03 111.84,166.65 112.27,166.27 112.70,165.90 113.14,165.53 113.57,165.17 114.00,164.81 114.43,164.45 114.86,164.09 115.29,163.73 115.72,163.37 116.15,163.01 116.59,162.64 117.02,162.27" fill="none" stroke="#f4be1a" stroke-width="1.15" stroke-linejoin="round" stroke-linecap="round" /><polyline points="41.10,248.20 41.53,248.19 41.96,248.18 42.39,248.18 42.83,248.17 43.26,248.16 43.69,248.16 44.12,248.15 44.55,248.14 44.98,248.14 45.41,248.13 45.84,248.12 46.28,248.11 46.71,248.10 47.14,248.09 47.57,248.08 48.00,248.06 48.43,248.04 48.86,248.03 49.30,247.97 49.73,247.85 50.16,247.67 50.59,247.44 51.02,247.17 51.45,246.86 51.88,246.52 52.32,246.16 52.75,245.79 53.18,245.41 53.61,244.96 54.04,244.41 54.47,243.77 54.90,243.05 55.33,242.26 55.77,241.43 56.20,240.57 56.63,239.69 57.06,238.81 57.49,237.95 57.92,237.11 58.35,236.32 58.79,235.56 59.22,234.78 59.65,234.00 60.08,233.22 60.51,232.43 60.94,231.63 61.37,230.84 61.80,230.05 62.24,229.25 62.67,228.46 63.10,227.68 63.53,226.89 63.96,226.12 64.39,225.35 64.82,224.59 65.26,223.84 65.69,223.10 66.12,222.37 66.55,221.65 66.98,220.95 67.41,220.27 67.84,219.59 68.28,218.93 68.71,218.27 69.14,217.63 69.57,216.99 70.00,216.35 70.43,215.73 70.86,215.11 71.29,214.49 71.73,213.87 72.16,213.26 72.59,212.65 73.02,212.05 73.45,211.44 73.88,210.83 74.31,210.22 74.75,209.61 75.18,209.00 75.61,208.38 76.04,207.76 76.47,207.14 76.90,206.51 77.33,205.89 77.76,205.26 78.20,204.64 78.63,204.02 79.06,203.39 79.49,202.77 79.92,202.15 80.35,201.54 80.78,200.92 81.22,200.31 81.65,199.70 82.08,199.10 82.51,198.50 82.94,197.90 83.37,197.32 83.80,196.73 84.24,196.15 84.67,195.58 85.10,195.00 85.53,194.43 85.96,193.85 86.39,193.28 86.82,192.71 87.25,192.14 87.69,191.57 88.12,191.01 88.55,190.46 88.98,189.91 89.41,189.36 89.84,188.83 90.27,188.30 90.71,187.78 91.14,187.27 91.57,186.76 92.00,186.27 92.43,185.79 92.86,185.33 93.29,184.87 93.72,184.41 94.16,183.95 94.59,183.49 95.02,183.04 95.45,182.60 95.88,182.16 96.31,181.72 96.74,181.29 97.18,180.87 97.61,180.46 98.04,180.06 98.47,179.67 98.90,179.29 99.33,178.92 99.76,178.57 100.19,178.23 100.63,177.90 101.06,177.59 101.49,177.29 101.92,177.01 102.35,176.74 102.78,176.49 103.21,176.25 103.65,176.01 104.08,175.78 104.51,175.56 104.94,175.35 105.37,175.14 105.80,174.93 106.23,174.72 106.67,174.52 107.10,174.31 107.53,174.10 107.96,173.89 108.39,173.67" fill="none" stroke="#35a0e6" stroke-width="1.15" stroke-linejoin="round" stroke-linecap="round" /><polyline points="41.10,248.20 41.53,248.19 41.96,248.18 42.39,248.18 42.83,248.17 43.26,248.16 43.69,248.16 44.12,248.15 44.55,248.15 44.98,248.14 45.41,248.13 45.84,248.13 46.28,248.12 46.71,248.11 47.14,248.10 47.57,248.09 48.00,248.08 48.43,248.07 48.86,248.06 49.30,248.04 49.73,248.03 50.16,248.00 50.59,247.96 51.02,247.90 51.45,247.83 51.88,247.75 52.32,247.65 52.75,247.54 53.18,247.42 53.61,247.29 54.04,247.15 54.47,246.97 54.90,246.70 55.33,246.37 55.77,245.98 56.20,245.54 56.63,245.06 57.06,244.56 57.49,244.03 57.92,243.50 58.35,242.96 58.79,242.40 59.22,241.78 59.65,241.10 60.08,240.39 60.51,239.62 60.94,238.83 61.37,238.00 61.80,237.15 62.24,236.27 62.67,235.39 63.10,234.49 63.53,233.59 63.96,232.69 64.39,231.80 64.82,230.92 65.26,230.06 65.69,229.22 66.12,228.41 66.55,227.63 66.98,226.89 67.41,226.18 67.84,225.49 68.28,224.80 68.71,224.13 69.14,223.46 69.57,222.81 70.00,222.16 70.43,221.52 70.86,220.89 71.29,220.26 71.73,219.63 72.16,219.00 72.59,218.38 73.02,217.76 73.45,217.13 73.88,216.51 74.31,215.88 74.75,215.25 75.18,214.61 75.61,213.97 76.04,213.32 76.47,212.67 76.90,212.02 77.33,211.37 77.76,210.72 78.20,210.07 78.63,209.42 79.06,208.76 79.49,208.11 79.92,207.46 80.35,206.81 80.78,206.16 81.22,205.51 81.65,204.87 82.08,204.23 82.51,203.58 82.94,202.94 83.37,202.31 83.80,201.67 84.24,201.04 84.67,200.42 85.10,199.79 85.53,199.17 85.96,198.54 86.39,197.92 86.82,197.30 87.25,196.69 87.69,196.07 88.12,195.46 88.55,194.84 88.98,194.23 89.41,193.62 89.84,193.02 90.27,192.41 90.71,191.81 91.14,191.21 91.57,190.61 92.00,190.01 92.43,189.41 92.86,188.82 93.29,188.22 93.72,187.63 94.16,187.03 94.59,186.43 95.02,185.84 95.45,185.24 95.88,184.64 96.31,184.05 96.74,183.46 97.18,182.87 97.61,182.28 98.04,181.70 98.47,181.13 98.90,180.56 99.33,180.00 99.76,179.44 100.19,178.89 100.63,178.35 101.06,177.82 101.49,177.29 101.92,176.78 102.35,176.26 102.78,175.76 103.21,175.25 103.65,174.76 104.08,174.26 104.51,173.78 104.94,173.29 105.37,172.81 105.80,172.34 106.23,171.87 106.67,171.40 107.10,170.94 107.53,170.49 107.96,170.04 108.39,169.59 108.82,169.15 109.25,168.72 109.68,168.29 110.12,167.86 110.55,167.44 110.98,167.03 111.41,166.63 111.84,166.24 112.27,165.86 112.70,165.48 113.14,165.10 113.57,164.73 114.00,164.36 114.43,163.99 114.86,163.62 115.29,163.26 115.72,162.89 116.15,162.52 116.59,162.14 117.02,161.76 117.45,161.38 117.88,160.98 118.31,160.58 118.74,160.18 119.17,159.76 119.61,159.33 120.04,158.89 120.47,158.45 120.90,158.01 121.33,157.57 121.76,157.12 122.19,156.68" fill="none" stroke="#1db356" stroke-width="1.15" stroke-linejoin="round" stroke-linecap="round" /><polyline points="41.10,248.20 41.53,248.19 41.96,248.19 42.39,248.19 42.83,248.18 43.26,248.18 43.69,248.17 44.12,248.17 44.55,248.17 44.98,248.16 45.41,248.16 45.84,248.15 46.28,248.15 46.71,248.15 47.14,248.14 47.57,248.13 48.00,248.13 48.43,248.12 48.86,248.11 49.30,248.10 49.73,248.10 50.16,248.08 50.59,248.06 51.02,248.03 51.45,247.99 51.88,247.94 52.32,247.89 52.75,247.83 53.18,247.76 53.61,247.69 54.04,247.61 54.47,247.52 54.90,247.42 55.33,247.32 55.77,247.22 56.20,247.10 56.63,246.98 57.06,246.86 57.49,246.73 57.92,246.59 58.35,246.45 58.79,246.28 59.22,246.05 59.65,245.77 60.08,245.45 60.51,245.09 60.94,244.70 61.37,244.29 61.80,243.85 62.24,243.41 62.67,242.96 63.10,242.49 63.53,241.96 63.96,241.40 64.39,240.79 64.82,240.16 65.26,239.50 65.69,238.81 66.12,238.11 66.55,237.39 66.98,236.67 67.41,235.93 67.84,235.15 68.28,234.33 68.71,233.49 69.14,232.62 69.57,231.73 70.00,230.81 70.43,229.88 70.86,228.94 71.29,228.00 71.73,227.04 72.16,226.09 72.59,225.14 73.02,224.19 73.45,223.26 73.88,222.33 74.31,221.43 74.75,220.55 75.18,219.69 75.61,218.86 76.04,218.05 76.47,217.25 76.90,216.46 77.33,215.68 77.76,214.91 78.20,214.14 78.63,213.38 79.06,212.63 79.49,211.89 79.92,211.14 80.35,210.41 80.78,209.67 81.22,208.94 81.65,208.21 82.08,207.48 82.51,206.76 82.94,206.03 83.37,205.30 83.80,204.57 84.24,203.84 84.67,203.10 85.10,202.37 85.53,201.63 85.96,200.89 86.39,200.16 86.82,199.42 87.25,198.69 87.69,197.95 88.12,197.22 88.55,196.49 88.98,195.77 89.41,195.05 89.84,194.34 90.27,193.63 90.71,192.92 91.14,192.23 91.57,191.54 92.00,190.86 92.43,190.18 92.86,189.52 93.29,188.86 93.72,188.21 94.16,187.56 94.59,186.92 95.02,186.28 95.45,185.65 95.88,185.02 96.31,184.40 96.74,183.78 97.18,183.17 97.61,182.56 98.04,181.95 98.47,181.36 98.90,180.76 99.33,180.17 99.76,179.59 100.19,179.01 100.63,178.43 101.06,177.86 101.49,177.29 101.92,176.73 102.35,176.18 102.78,175.63 103.21,175.09 103.65,174.55 104.08,174.02 104.51,173.49 104.94,172.97 105.37,172.45 105.80,171.93 106.23,171.41 106.67,170.90 107.10,170.39 107.53,169.88 107.96,169.37 108.39,168.86 108.82,168.35 109.25,167.84 109.68,167.33 110.12,166.81 110.55,166.30 110.98,165.78 111.41,165.26 111.84,164.74 112.27,164.22 112.70,163.70 113.14,163.18 113.57,162.66 114.00,162.15 114.43,161.63 114.86,161.12 115.29,160.61 115.72,160.10 116.15,159.60 116.59,159.10 117.02,158.61 117.45,158.12 117.88,157.63 118.31,157.16 118.74,156.68 119.17,156.22 119.61,155.77 120.04,155.33 120.47,154.91 120.90,154.49 121.33,154.07 121.76,153.66 122.19,153.25 122.63,152.85 123.06,152.44 123.49,152.03 123.92,151.62 124.35,151.20 124.78,150.77 125.21,150.33 125.64,149.89 126.08,149.42 126.51,148.95 126.94,148.46 127.37,147.95 127.80,147.41 128.23,146.84 128.66,146.23 129.10,145.62 129.53,144.99 129.96,144.37" fill="none" stroke="#ff2d3a" stroke-width="1.15" stroke-linejoin="round" stroke-linecap="round" /><circle cx="41.10" cy="248.20" r="1.3" fill="#fff" stroke="#f4be1a" stroke-opacity="0.6" stroke-width="0.6"/><circle cx="49.73" cy="248.03" r="1.3" fill="#fff" stroke="#f4be1a" stroke-opacity="0.6" stroke-width="0.6"/><circle cx="58.35" cy="242.79" r="1.3" fill="#fff" stroke="#f4be1a" stroke-opacity="0.6" stroke-width="0.6"/><circle cx="66.98" cy="226.72" r="1.3" fill="#fff" stroke="#f4be1a" stroke-opacity="0.6" stroke-width="0.6"/><circle cx="75.61" cy="213.79" r="1.3" fill="#fff" stroke="#f4be1a" stroke-opacity="0.6" stroke-width="0.6"/><circle cx="84.24" cy="200.87" r="1.3" fill="#fff" stroke="#f4be1a" stroke-opacity="0.6" stroke-width="0.6"/><circle cx="92.86" cy="188.82" r="1.3" fill="#fff" stroke="#f4be1a" stroke-opacity="0.6" stroke-width="0.6"/><circle cx="101.49" cy="177.29" r="1.3" fill="#fff" stroke="#f4be1a" stroke-opacity="0.6" stroke-width="0.6"/><circle cx="110.12" cy="168.21" r="1.3" fill="#fff" stroke="#f4be1a" stroke-opacity="0.6" stroke-width="0.6"/><circle cx="41.10" cy="248.20" r="1.3" fill="#fff" stroke="#35a0e6" stroke-opacity="0.6" stroke-width="0.6"/><circle cx="49.73" cy="247.85" r="1.3" fill="#fff" stroke="#35a0e6" stroke-opacity="0.6" stroke-width="0.6"/><circle cx="58.35" cy="236.32" r="1.3" fill="#fff" stroke="#35a0e6" stroke-opacity="0.6" stroke-width="0.6"/><circle cx="66.98" cy="220.95" r="1.3" fill="#fff" stroke="#35a0e6" stroke-opacity="0.6" stroke-width="0.6"/><circle cx="75.61" cy="208.38" r="1.3" fill="#fff" stroke="#35a0e6" stroke-opacity="0.6" stroke-width="0.6"/><circle cx="84.24" cy="196.15" r="1.3" fill="#fff" stroke="#35a0e6" stroke-opacity="0.6" stroke-width="0.6"/><circle cx="92.86" cy="185.33" r="1.3" fill="#fff" stroke="#35a0e6" stroke-opacity="0.6" stroke-width="0.6"/><circle cx="101.49" cy="177.29" r="1.3" fill="#fff" stroke="#35a0e6" stroke-opacity="0.6" stroke-width="0.6"/><circle cx="41.10" cy="248.20" r="1.3" fill="#fff" stroke="#1db356" stroke-opacity="0.6" stroke-width="0.6"/><circle cx="49.73" cy="248.03" r="1.3" fill="#fff" stroke="#1db356" stroke-opacity="0.6" stroke-width="0.6"/><circle cx="58.35" cy="242.96" r="1.3" fill="#fff" stroke="#1db356" stroke-opacity="0.6" stroke-width="0.6"/><circle cx="66.98" cy="226.89" r="1.3" fill="#fff" stroke="#1db356" stroke-opacity="0.6" stroke-width="0.6"/><circle cx="75.61" cy="213.97" r="1.3" fill="#fff" stroke="#1db356" stroke-opacity="0.6" stroke-width="0.6"/><circle cx="84.24" cy="201.04" r="1.3" fill="#fff" stroke="#1db356" stroke-opacity="0.6" stroke-width="0.6"/><circle cx="92.86" cy="188.82" r="1.3" fill="#fff" stroke="#1db356" stroke-opacity="0.6" stroke-width="0.6"/><circle cx="101.49" cy="177.29" r="1.3" fill="#fff" stroke="#1db356" stroke-opacity="0.6" stroke-width="0.6"/><circle cx="110.12" cy="167.86" r="1.3" fill="#fff" stroke="#1db356" stroke-opacity="0.6" stroke-width="0.6"/><circle cx="118.74" cy="160.18" r="1.3" fill="#fff" stroke="#1db356" stroke-opacity="0.6" stroke-width="0.6"/><circle cx="41.10" cy="248.20" r="1.3" fill="#fff" stroke="#ff2d3a" stroke-opacity="0.6" stroke-width="0.6"/><circle cx="49.73" cy="248.10" r="1.3" fill="#fff" stroke="#ff2d3a" stroke-opacity="0.6" stroke-width="0.6"/><circle cx="58.35" cy="246.45" r="1.3" fill="#fff" stroke="#ff2d3a" stroke-opacity="0.6" stroke-width="0.6"/><circle cx="66.98" cy="236.67" r="1.3" fill="#fff" stroke="#ff2d3a" stroke-opacity="0.6" stroke-width="0.6"/><circle cx="75.61" cy="218.86" r="1.3" fill="#fff" stroke="#ff2d3a" stroke-opacity="0.6" stroke-width="0.6"/><circle cx="84.24" cy="203.84" r="1.3" fill="#fff" stroke="#ff2d3a" stroke-opacity="0.6" stroke-width="0.6"/><circle cx="92.86" cy="189.52" r="1.3" fill="#fff" stroke="#ff2d3a" stroke-opacity="0.6" stroke-width="0.6"/><circle cx="101.49" cy="177.29" r="1.3" fill="#fff" stroke="#ff2d3a" stroke-opacity="0.6" stroke-width="0.6"/><circle cx="110.12" cy="166.81" r="1.3" fill="#fff" stroke="#ff2d3a" stroke-opacity="0.6" stroke-width="0.6"/><circle cx="118.74" cy="156.68" r="1.3" fill="#fff" stroke="#ff2d3a" stroke-opacity="0.6" stroke-width="0.6"/><circle cx="127.37" cy="147.95" r="1.3" fill="#fff" stroke="#ff2d3a" stroke-opacity="0.6" stroke-width="0.6"/><line x1="43.50" y1="150.20" x2="60.40" y2="150.20" stroke="#f4be1a" stroke-width="1.1"/><circle cx="52.00" cy="150.20" r="1.2" fill="#fff" stroke="#f4be1a" stroke-opacity="0.6" stroke-width="0.5"/><text x="62.00" y="152.80" font-size="7.3" text-anchor="start" fill="#111" stroke="#111" stroke-width="0.2" font-weight="normal" >45 °C</text><line x1="43.50" y1="159.25" x2="60.40" y2="159.25" stroke="#35a0e6" stroke-width="1.1"/><circle cx="52.00" cy="159.25" r="1.2" fill="#fff" stroke="#35a0e6" stroke-opacity="0.6" stroke-width="0.5"/><text x="62.00" y="161.85" font-size="7.3" text-anchor="start" fill="#111" stroke="#111" stroke-width="0.2" font-weight="normal" >60 °C</text><line x1="43.50" y1="168.30" x2="60.40" y2="168.30" stroke="#1db356" stroke-width="1.1"/><circle cx="52.00" cy="168.30" r="1.2" fill="#fff" stroke="#1db356" stroke-opacity="0.6" stroke-width="0.5"/><text x="62.00" y="170.90" font-size="7.3" text-anchor="start" fill="#111" stroke="#111" stroke-width="0.2" font-weight="normal" >75 °C</text><line x1="43.50" y1="177.35" x2="60.40" y2="177.35" stroke="#ff2d3a" stroke-width="1.1"/><circle cx="52.00" cy="177.35" r="1.2" fill="#fff" stroke="#ff2d3a" stroke-opacity="0.6" stroke-width="0.5"/><text x="62.00" y="179.95" font-size="7.3" text-anchor="start" fill="#111" stroke="#111" stroke-width="0.2" font-weight="normal" >90 °C</text><rect x="98" y="187" width="69" height="60" fill="#fff"/><line x1="112.50" y1="235.70" x2="164.30" y2="235.70" stroke="#000" stroke-width="0.7"/><line x1="112.50" y1="193.70" x2="112.50" y2="235.70" stroke="#000" stroke-width="0.7"/><line x1="112.50" y1="193.70" x2="164.30" y2="193.70" stroke="#000" stroke-width="0.7"/><line x1="164.30" y1="193.70" x2="164.30" y2="235.70" stroke="#000" stroke-width="0.7"/><line x1="118.50" y1="235.70" x2="118.50" y2="236.90" stroke="#000" stroke-width="0.5"/><text x="118.50" y="240.70" font-size="4.5" text-anchor="middle" fill="#111" stroke="#111" stroke-width="0.06" font-weight="normal" >45</text><line x1="131.76" y1="235.70" x2="131.76" y2="236.90" stroke="#000" stroke-width="0.5"/><text x="131.76" y="240.70" font-size="4.5" text-anchor="middle" fill="#111" stroke="#111" stroke-width="0.06" font-weight="normal" >60</text><line x1="145.02" y1="235.70" x2="145.02" y2="236.90" stroke="#000" stroke-width="0.5"/><text x="145.02" y="240.70" font-size="4.5" text-anchor="middle" fill="#111" stroke="#111" stroke-width="0.06" font-weight="normal" >75</text><line x1="158.28" y1="235.70" x2="158.28" y2="236.90" stroke="#000" stroke-width="0.5"/><text x="158.28" y="240.70" font-size="4.5" text-anchor="middle" fill="#111" stroke="#111" stroke-width="0.06" font-weight="normal" >90</text><line x1="112.50" y1="235.70" x2="111.30" y2="235.70" stroke="#000" stroke-width="0.5"/><text x="111.00" y="237.30" font-size="4.4" text-anchor="end" fill="#111" stroke="#111" stroke-width="0.06" font-weight="normal" >0</text><line x1="112.50" y1="221.70" x2="111.30" y2="221.70" stroke="#000" stroke-width="0.5"/><text x="111.00" y="223.30" font-size="4.4" text-anchor="end" fill="#111" stroke="#111" stroke-width="0.06" font-weight="normal" >40</text><line x1="112.50" y1="207.70" x2="111.30" y2="207.70" stroke="#000" stroke-width="0.5"/><text x="111.00" y="209.30" font-size="4.4" text-anchor="end" fill="#111" stroke="#111" stroke-width="0.06" font-weight="normal" >80</text><line x1="112.50" y1="193.70" x2="111.30" y2="193.70" stroke="#000" stroke-width="0.5"/><text x="111.00" y="195.30" font-size="4.4" text-anchor="end" fill="#111" stroke="#111" stroke-width="0.06" font-weight="normal" >120</text><text x="137.80" y="245.40" font-size="4.4" text-anchor="middle" fill="#111" stroke="#111" stroke-width="0.06" font-weight="normal" >Curing Temperature (°C)</text><text x="102.50" y="214.70" font-size="4.3" text-anchor="middle" fill="#111" stroke="#111" stroke-width="0.06" font-weight="normal" transform="rotate(-90 102.5 214.7)" >Bonding Strength (N/cm²)</text><polyline points="118.50,204.90 131.76,208.89 145.02,203.15 158.28,198.25" fill="none" stroke="#ff2d3a" stroke-width="0.8" stroke-linejoin="round" stroke-linecap="round" /><line x1="214.20" y1="248.20" x2="344.40" y2="248.20" stroke="#000" stroke-width="1.15"/><line x1="214.20" y1="143.30" x2="214.20" y2="248.20" stroke="#000" stroke-width="1.15"/><line x1="214.20" y1="143.30" x2="344.40" y2="143.30" stroke="#000" stroke-width="1.15"/><line x1="344.40" y1="143.30" x2="344.40" y2="248.20" stroke="#000" stroke-width="1.15"/><line x1="214.20" y1="248.20" x2="214.20" y2="250.40" stroke="#000" stroke-width="0.9"/><line x1="253.03" y1="248.20" x2="253.03" y2="250.40" stroke="#000" stroke-width="0.9"/><line x1="291.86" y1="248.20" x2="291.86" y2="250.40" stroke="#000" stroke-width="0.9"/><line x1="330.69" y1="248.20" x2="330.69" y2="250.40" stroke="#000" stroke-width="0.9"/><line x1="233.61" y1="248.20" x2="233.61" y2="249.80" stroke="#000" stroke-width="0.9"/><line x1="272.44" y1="248.20" x2="272.44" y2="249.80" stroke="#000" stroke-width="0.9"/><line x1="311.27" y1="248.20" x2="311.27" y2="249.80" stroke="#000" stroke-width="0.9"/><text transform="translate(214.20 258.00) scale(0.92 1)" font-size="8.6" text-anchor="middle" fill="#111" stroke="#111" stroke-width="0.2">4000</text><text transform="translate(253.03 258.00) scale(0.92 1)" font-size="8.6" text-anchor="middle" fill="#111" stroke="#111" stroke-width="0.2">3000</text><text transform="translate(291.86 258.00) scale(0.92 1)" font-size="8.6" text-anchor="middle" fill="#111" stroke="#111" stroke-width="0.2">2000</text><text transform="translate(330.69 258.00) scale(0.92 1)" font-size="8.6" text-anchor="middle" fill="#111" stroke="#111" stroke-width="0.2">1000</text><line x1="214.20" y1="248.20" x2="212.00" y2="248.20" stroke="#000" stroke-width="0.9"/><line x1="214.20" y1="221.97" x2="212.00" y2="221.97" stroke="#000" stroke-width="0.9"/><line x1="214.20" y1="195.75" x2="212.00" y2="195.75" stroke="#000" stroke-width="0.9"/><line x1="214.20" y1="169.52" x2="212.00" y2="169.52" stroke="#000" stroke-width="0.9"/><line x1="214.20" y1="143.30" x2="212.00" y2="143.30" stroke="#000" stroke-width="0.9"/><line x1="214.20" y1="235.09" x2="212.60" y2="235.09" stroke="#000" stroke-width="0.9"/><line x1="214.20" y1="208.86" x2="212.60" y2="208.86" stroke="#000" stroke-width="0.9"/><line x1="214.20" y1="182.64" x2="212.60" y2="182.64" stroke="#000" stroke-width="0.9"/><line x1="214.20" y1="156.41" x2="212.60" y2="156.41" stroke="#000" stroke-width="0.9"/><text transform="translate(210.60 251.25) scale(0.92 1)" font-size="8.6" text-anchor="end" fill="#111" stroke="#111" stroke-width="0.2">0</text><text transform="translate(210.60 225.03) scale(0.92 1)" font-size="8.6" text-anchor="end" fill="#111" stroke="#111" stroke-width="0.2">25</text><text transform="translate(210.60 198.80) scale(0.92 1)" font-size="8.6" text-anchor="end" fill="#111" stroke="#111" stroke-width="0.2">50</text><text transform="translate(210.60 172.57) scale(0.92 1)" font-size="8.6" text-anchor="end" fill="#111" stroke="#111" stroke-width="0.2">75</text><text transform="translate(210.60 146.35) scale(0.92 1)" font-size="8.6" text-anchor="end" fill="#111" stroke="#111" stroke-width="0.2">100</text><text x="279.3" y="269.2" font-size="9.4" text-anchor="middle" fill="#111">Wave number (cm<tspan dy="-3.5" font-size="5.8">-1</tspan><tspan dy="3.5">)</tspan></text><text x="194.80" y="198.20" font-size="9.4" text-anchor="middle" fill="#111" stroke="#111" stroke-width="0.2" font-weight="normal" transform="rotate(-90 194.8 198.2)" >Transmittance (%)</text><text x="178.50" y="147.20" font-size="10.4" text-anchor="start" fill="#111" stroke="#111" stroke-width="0.25" font-weight="bold" >(e)</text><line x1="388.30" y1="248.40" x2="518.00" y2="248.40" stroke="#000" stroke-width="1.15"/><line x1="388.30" y1="143.60" x2="388.30" y2="248.40" stroke="#000" stroke-width="1.15"/><line x1="388.30" y1="143.60" x2="518.00" y2="143.60" stroke="#000" stroke-width="1.15"/><line x1="518.00" y1="143.60" x2="518.00" y2="248.40" stroke="#000" stroke-width="1.15"/><line x1="406.83" y1="248.40" x2="406.83" y2="250.60" stroke="#000" stroke-width="0.9"/><line x1="443.89" y1="248.40" x2="443.89" y2="250.60" stroke="#000" stroke-width="0.9"/><line x1="480.95" y1="248.40" x2="480.95" y2="250.60" stroke="#000" stroke-width="0.9"/><line x1="518.01" y1="248.40" x2="518.01" y2="250.60" stroke="#000" stroke-width="0.9"/><line x1="388.30" y1="248.40" x2="388.30" y2="250.00" stroke="#000" stroke-width="0.9"/><line x1="425.36" y1="248.40" x2="425.36" y2="250.00" stroke="#000" stroke-width="0.9"/><line x1="462.42" y1="248.40" x2="462.42" y2="250.00" stroke="#000" stroke-width="0.9"/><line x1="499.48" y1="248.40" x2="499.48" y2="250.00" stroke="#000" stroke-width="0.9"/><text transform="translate(406.83 258.00) scale(0.92 1)" font-size="8.6" text-anchor="middle" fill="#111" stroke="#111" stroke-width="0.2">-20</text><text transform="translate(443.89 258.00) scale(0.92 1)" font-size="8.6" text-anchor="middle" fill="#111" stroke="#111" stroke-width="0.2">0</text><text transform="translate(480.95 258.00) scale(0.92 1)" font-size="8.6" text-anchor="middle" fill="#111" stroke="#111" stroke-width="0.2">20</text><text transform="translate(518.01 258.00) scale(0.92 1)" font-size="8.6" text-anchor="middle" fill="#111" stroke="#111" stroke-width="0.2">40</text><line x1="388.30" y1="143.60" x2="386.10" y2="143.60" stroke="#000" stroke-width="0.9"/><line x1="388.30" y1="162.50" x2="386.10" y2="162.50" stroke="#000" stroke-width="0.9"/><line x1="388.30" y1="181.40" x2="386.10" y2="181.40" stroke="#000" stroke-width="0.9"/><line x1="388.30" y1="200.30" x2="386.10" y2="200.30" stroke="#000" stroke-width="0.9"/><line x1="388.30" y1="219.20" x2="386.10" y2="219.20" stroke="#000" stroke-width="0.9"/><line x1="388.30" y1="238.10" x2="386.10" y2="238.10" stroke="#000" stroke-width="0.9"/><text x="453.00" y="269.20" font-size="9.4" text-anchor="middle" fill="#111" stroke="#111" stroke-width="0.2" font-weight="normal" >Temperature (°C)</text><text x="354.20" y="147.20" font-size="10.4" text-anchor="start" fill="#111" stroke="#111" stroke-width="0.25" font-weight="bold" >(f)</text><clipPath id="ce"><rect x="214.7" y="143.8" width="129.3" height="104"/></clipPath><g clip-path="url(#ce)"><polyline points="214.30,149.80 220.00,149.70 226.00,149.80 228.00,150.60 231.00,153.42 234.00,157.56 237.50,162.04 239.50,161.69 242.00,157.70 246.00,153.33 249.00,151.30 251.50,150.60 252.80,151.15 253.90,153.87 255.00,158.80 256.60,168.61 258.20,176.98 259.30,171.72 260.30,162.06 261.50,157.80 263.00,156.10 266.00,154.20 270.00,151.60 275.00,150.37 285.00,149.00 295.00,148.30 305.00,147.70 306.30,149.57 307.00,153.56 307.80,151.54 309.10,148.02 309.80,151.50 310.40,162.24 311.30,167.62 312.40,163.42 313.50,168.83 314.40,166.91 315.20,165.49 316.20,168.08 317.00,170.46 318.50,167.30 320.00,171.74 321.00,166.53 321.70,163.30 322.80,173.10 323.90,178.70 325.00,188.91 326.00,203.00 326.80,219.57 327.40,228.00 328.20,219.00 329.00,200.50 329.80,186.47 330.40,180.45 331.20,177.93 332.20,176.10 333.00,178.27 334.00,172.34 335.20,165.10 336.50,172.66 337.30,167.23 338.00,162.91 339.00,166.18 339.60,169.36 340.50,167.63 341.30,166.00 342.20,170.07 343.00,174.65 343.70,172.53 344.30,170.01" fill="none" stroke="#f4be1a" stroke-width="1.2" stroke-linejoin="round" stroke-linecap="round" /><polyline points="214.30,146.30 220.00,146.20 226.00,146.30 228.00,147.09 231.00,150.36 234.00,155.01 237.50,160.16 239.50,159.57 242.00,155.31 246.00,150.46 249.00,148.18 251.50,147.49 252.80,148.08 253.90,150.86 255.00,155.81 256.60,165.71 258.20,173.82 259.30,168.18 260.30,158.28 261.50,153.83 263.00,151.84 266.00,149.87 270.00,148.48 275.00,147.59 285.00,146.90 295.00,146.40 305.00,146.00 306.30,147.89 307.00,151.84 307.80,149.87 309.10,146.40 309.80,149.87 310.40,160.46 311.30,165.71 312.40,161.45 313.50,166.69 314.40,164.72 315.20,163.23 316.20,165.71 317.00,167.98 318.50,164.72 320.00,168.97 321.00,163.72 321.70,160.46 322.80,170.06 323.90,175.51 325.00,185.50 326.00,199.37 326.80,213.23 327.40,217.00 328.20,213.23 329.00,197.38 329.80,183.53 330.40,177.59 331.20,175.11 332.20,173.33 333.00,175.51 334.00,169.67 335.20,162.54 336.50,170.06 337.30,164.72 338.00,160.46 339.00,163.72 339.60,166.89 340.50,165.21 341.30,163.63 342.20,167.69 343.00,172.24 343.70,170.16 344.30,167.69" fill="none" stroke="#35a0e6" stroke-width="1.2" stroke-linejoin="round" stroke-linecap="round" /><polyline points="214.30,145.90 220.00,145.81 226.00,145.90 228.00,146.68 231.00,149.88 234.00,154.44 237.50,159.48 239.50,158.90 242.00,154.73 246.00,149.98 249.00,147.75 251.50,147.07 252.80,147.65 253.90,150.37 255.00,155.22 256.60,164.91 258.20,172.87 259.30,167.34 260.30,157.64 261.50,153.28 263.00,151.34 266.00,149.40 270.00,148.04 275.00,147.16 285.00,146.49 295.00,146.00 305.00,145.61 306.30,147.46 307.00,151.34 307.80,149.40 309.10,146.00 309.80,149.40 310.40,159.77 311.30,164.91 312.40,160.74 313.50,165.88 314.40,163.94 315.20,162.49 316.20,164.91 317.00,167.15 318.50,163.94 320.00,168.12 321.00,162.97 321.70,159.77 322.80,169.18 323.90,174.52 325.00,184.31 326.00,197.89 326.80,211.47 327.40,208.00 328.20,211.47 329.00,195.95 329.80,182.38 330.40,176.56 331.20,174.13 332.20,172.38 333.00,174.52 334.00,168.79 335.20,161.81 336.50,169.18 337.30,163.94 338.00,159.77 339.00,162.97 339.60,166.08 340.50,164.43 341.30,162.88 342.20,166.85 343.00,171.32 343.70,169.28 344.30,166.85" fill="none" stroke="#1db356" stroke-width="1.2" stroke-linejoin="round" stroke-linecap="round" /><polyline points="214.30,146.40 220.00,146.30 226.00,146.40 228.00,147.20 231.00,150.50 234.00,155.20 237.50,160.40 239.50,159.80 242.00,155.50 246.00,150.60 249.00,148.30 251.50,147.60 252.80,148.20 253.90,151.00 255.00,156.00 256.60,166.00 258.20,174.20 259.30,168.50 260.30,158.50 261.50,154.00 263.00,152.00 266.00,150.00 270.00,148.60 275.00,147.70 285.00,147.00 295.00,146.50 305.00,146.10 306.30,148.00 307.00,152.00 307.80,150.00 309.10,146.50 309.80,150.00 310.40,160.70 311.30,166.00 312.40,161.70 313.50,167.00 314.40,165.00 315.20,163.50 316.20,166.00 317.00,168.30 318.50,165.00 320.00,169.30 321.00,164.00 321.70,160.70 322.80,170.40 323.90,175.90 325.00,186.00 326.00,200.00 326.80,214.00 327.40,220.50 328.20,214.00 329.00,198.00 329.80,184.00 330.40,178.00 331.20,175.50 332.20,173.70 333.00,175.90 334.00,170.00 335.20,162.80 336.50,170.40 337.30,165.00 338.00,160.70 339.00,164.00 339.60,167.20 340.50,165.50 341.30,163.90 342.20,168.00 343.00,172.60 343.70,170.50 344.30,168.00" fill="none" stroke="#ff2d3a" stroke-width="1.2" stroke-linejoin="round" stroke-linecap="round" /></g><text x="267.90" y="203.90" font-size="8.2" text-anchor="start" fill="#111" stroke="#111" stroke-width="0.2" font-weight="normal" >gel fraction</text><line x1="219.50" y1="211.20" x2="239.00" y2="211.20" stroke="#f4be1a" stroke-width="1.3"/><circle cx="229.20" cy="211.20" r="1.3" fill="#fff" stroke="#f4be1a" stroke-opacity="0.6" stroke-width="0.6"/><text x="241.00" y="214.10" font-size="8.2" text-anchor="start" fill="#111" stroke="#111" stroke-width="0.2" font-weight="normal" >45 °C</text><text x="268.20" y="214.10" font-size="8.2" text-anchor="start" fill="#111" stroke="#111" stroke-width="0.2" font-weight="normal" >95.8%</text><line x1="219.50" y1="221.30" x2="239.00" y2="221.30" stroke="#35a0e6" stroke-width="1.3"/><circle cx="229.20" cy="221.30" r="1.3" fill="#fff" stroke="#35a0e6" stroke-opacity="0.6" stroke-width="0.6"/><text x="241.00" y="224.20" font-size="8.2" text-anchor="start" fill="#111" stroke="#111" stroke-width="0.2" font-weight="normal" >60 °C</text><text x="268.20" y="224.20" font-size="8.2" text-anchor="start" fill="#111" stroke="#111" stroke-width="0.2" font-weight="normal" >95.2%</text><line x1="219.50" y1="231.40" x2="239.00" y2="231.40" stroke="#1db356" stroke-width="1.3"/><polygon points="229.20,229.77 230.82,232.62 227.57,232.62" fill="#fff" stroke="#1db356" stroke-width="0.6"/><text x="241.00" y="234.30" font-size="8.2" text-anchor="start" fill="#111" stroke="#111" stroke-width="0.2" font-weight="normal" >75 °C</text><text x="268.20" y="234.30" font-size="8.2" text-anchor="start" fill="#111" stroke="#111" stroke-width="0.2" font-weight="normal" >96.8%</text><line x1="219.50" y1="241.50" x2="239.00" y2="241.50" stroke="#ff2d3a" stroke-width="1.3"/><polygon points="229.20,243.12 230.82,240.28 227.57,240.28" fill="#fff" stroke="#ff2d3a" stroke-width="0.6"/><text x="241.00" y="244.40" font-size="8.2" text-anchor="start" fill="#111" stroke="#111" stroke-width="0.2" font-weight="normal" >90 °C</text><text x="268.20" y="244.40" font-size="8.2" text-anchor="start" fill="#111" stroke="#111" stroke-width="0.2" font-weight="normal" >94.9%</text><polyline points="388.50,166.28 389.00,166.28 389.50,166.27 390.00,166.27 390.50,166.26 391.00,166.25 391.50,166.25 392.00,166.24 392.50,166.23 393.00,166.22 393.50,166.21 394.00,166.20 394.50,166.20 395.00,166.19 395.50,166.18 396.00,166.17 396.50,166.16 397.00,166.15 397.50,166.14 398.00,166.13 398.50,166.12 399.00,166.11 399.50,166.10 400.00,166.09 400.50,166.08 401.00,166.07 401.50,166.06 402.00,166.05 402.50,166.03 403.00,166.02 403.50,166.01 404.00,166.00 404.50,165.98 405.00,165.97 405.50,165.96 406.00,165.94 406.50,165.93 407.00,165.92 407.50,165.90 408.00,165.89 408.50,165.87 409.00,165.86 409.50,165.84 410.00,165.82 410.50,165.79 411.00,165.77 411.50,165.74 412.00,165.71 412.50,165.67 413.00,165.64 413.50,165.60 414.00,165.56 414.50,165.51 415.00,165.47 415.50,165.42 416.00,165.38 416.50,165.33 417.00,165.27 417.50,165.22 418.00,165.17 418.50,165.11 419.00,165.04 419.50,164.98 420.00,164.91 420.50,164.84 421.00,164.76 421.50,164.68 422.00,164.60 422.50,164.51 423.00,164.42 423.50,164.33 424.00,164.24 424.50,164.14 425.00,164.04 425.50,163.93 426.00,163.81 426.50,163.69 427.00,163.56 427.50,163.41 428.00,163.26 428.50,163.09 429.00,162.91 429.50,162.72 430.00,162.51 430.50,162.29 431.00,162.07 431.50,161.83 432.00,161.58 432.50,161.33 433.00,161.07 433.50,160.81 434.00,160.54 434.50,160.27 435.00,159.99 435.50,159.71 436.00,159.43 436.50,159.15 437.00,158.87 437.50,158.60 438.00,158.33 438.50,158.06 439.00,157.81 439.50,157.57 440.00,157.35 440.50,157.14 441.00,156.95 441.50,156.77 442.00,156.62 442.50,156.48 443.00,156.36 443.50,156.25 444.00,156.15 444.50,156.07 445.00,156.00 445.50,155.94 446.00,155.89 446.50,155.85 447.00,155.82 447.50,155.80 448.00,155.79 448.50,155.79 449.00,155.79 449.50,155.80 450.00,155.82 450.50,155.84 451.00,155.87 451.50,155.90 452.00,155.93 452.50,155.96 453.00,155.99 453.50,156.02 454.00,156.06 454.50,156.09 455.00,156.12 455.50,156.15 456.00,156.19 456.50,156.22 457.00,156.25 457.50,156.29 458.00,156.32 458.50,156.35 459.00,156.39 459.50,156.42 460.00,156.46 460.50,156.49 461.00,156.53 461.50,156.57 462.00,156.60 462.50,156.64 463.00,156.68 463.50,156.71 464.00,156.75 464.50,156.79 465.00,156.83 465.50,156.86 466.00,156.90 466.50,156.94 467.00,156.97 467.50,157.01 468.00,157.05 468.50,157.08 469.00,157.12 469.50,157.15 470.00,157.19 470.50,157.22 471.00,157.26 471.50,157.29 472.00,157.32 472.50,157.36 473.00,157.39 473.50,157.42 474.00,157.45 474.50,157.49 475.00,157.52 475.50,157.55 476.00,157.58 476.50,157.61 477.00,157.64 477.50,157.68 478.00,157.71 478.50,157.74 479.00,157.77 479.50,157.80 480.00,157.83 480.50,157.86 481.00,157.89 481.50,157.92 482.00,157.94 482.50,157.97 483.00,157.99 483.50,158.01 484.00,158.04 484.50,158.06 485.00,158.08 485.50,158.09 486.00,158.11 486.50,158.13 487.00,158.15 487.50,158.17 488.00,158.18 488.50,158.20 489.00,158.22 489.50,158.23 490.00,158.25 490.50,158.27 491.00,158.28 491.50,158.30 492.00,158.32 492.50,158.34 493.00,158.35 493.50,158.37 494.00,158.39 494.50,158.40 495.00,158.42 495.50,158.44 496.00,158.45 496.50,158.47 497.00,158.49 497.50,158.51 498.00,158.52 498.50,158.54 499.00,158.56 499.50,158.57 500.00,158.59 500.50,158.61 501.00,158.62 501.50,158.64 502.00,158.66 502.50,158.67 503.00,158.69 503.50,158.71 504.00,158.73 504.50,158.74 505.00,158.76 505.50,158.78 506.00,158.79 506.50,158.81 507.00,158.83 507.50,158.84 508.00,158.86 508.50,158.88 509.00,158.89 509.50,158.91 510.00,158.93 510.50,158.95 511.00,158.96 511.50,158.98 512.00,159.00 512.50,159.01 513.00,159.03 513.50,159.05 514.00,159.06 514.50,159.08 515.00,159.09 515.50,159.11 516.00,159.12 516.50,159.14 517.00,159.15 517.50,159.16 518.00,159.17" fill="none" stroke="#ff2d3a" stroke-width="1.3" stroke-linejoin="round" stroke-linecap="round" /><polyline points="388.50,192.53 389.00,192.51 389.50,192.49 390.00,192.47 390.50,192.44 391.00,192.41 391.50,192.38 392.00,192.35 392.50,192.32 393.00,192.29 393.50,192.25 394.00,192.22 394.50,192.18 395.00,192.15 395.50,192.11 396.00,192.08 396.50,192.04 397.00,192.00 397.50,191.96 398.00,191.92 398.50,191.88 399.00,191.83 399.50,191.78 400.00,191.73 400.50,191.68 401.00,191.62 401.50,191.56 402.00,191.50 402.50,191.44 403.00,191.37 403.50,191.31 404.00,191.24 404.50,191.17 405.00,191.10 405.50,191.03 406.00,190.96 406.50,190.88 407.00,190.81 407.50,190.73 408.00,190.65 408.50,190.57 409.00,190.48 409.50,190.39 410.00,190.29 410.50,190.19 411.00,190.09 411.50,189.98 412.00,189.87 412.50,189.75 413.00,189.63 413.50,189.51 414.00,189.39 414.50,189.26 415.00,189.14 415.50,189.01 416.00,188.89 416.50,188.76 417.00,188.64 417.50,188.51 418.00,188.38 418.50,188.25 419.00,188.12 419.50,187.98 420.00,187.83 420.50,187.68 421.00,187.52 421.50,187.34 422.00,187.15 422.50,186.95 423.00,186.72 423.50,186.48 424.00,186.23 424.50,185.95 425.00,185.66 425.50,185.36 426.00,185.04 426.50,184.72 427.00,184.39 427.50,184.06 428.00,183.73 428.50,183.39 429.00,183.06 429.50,182.73 430.00,182.40 430.50,182.08 431.00,181.77 431.50,181.46 432.00,181.16 432.50,180.87 433.00,180.58 433.50,180.30 434.00,180.03 434.50,179.76 435.00,179.50 435.50,179.24 436.00,178.99 436.50,178.74 437.00,178.49 437.50,178.25 438.00,178.01 438.50,177.78 439.00,177.56 439.50,177.35 440.00,177.14 440.50,176.95 441.00,176.77 441.50,176.61 442.00,176.46 442.50,176.32 443.00,176.19 443.50,176.08 444.00,175.99 444.50,175.90 445.00,175.83 445.50,175.78 446.00,175.73 446.50,175.69 447.00,175.66 447.50,175.64 448.00,175.63 448.50,175.62 449.00,175.61 449.50,175.60 450.00,175.60 450.50,175.60 451.00,175.60 451.50,175.60 452.00,175.60 452.50,175.60 453.00,175.60 453.50,175.60 454.00,175.60 454.50,175.60 455.00,175.60 455.50,175.61 456.00,175.61 456.50,175.61 457.00,175.62 457.50,175.63 458.00,175.64 458.50,175.66 459.00,175.68 459.50,175.70 460.00,175.72 460.50,175.75 461.00,175.78 461.50,175.81 462.00,175.85 462.50,175.89 463.00,175.93 463.50,175.97 464.00,176.01 464.50,176.05 465.00,176.09 465.50,176.13 466.00,176.17 466.50,176.21 467.00,176.25 467.50,176.29 468.00,176.32 468.50,176.36 469.00,176.39 469.50,176.43 470.00,176.46 470.50,176.49 471.00,176.52 471.50,176.54 472.00,176.57 472.50,176.59 473.00,176.61 473.50,176.64 474.00,176.66 474.50,176.68 475.00,176.70 475.50,176.72 476.00,176.74 476.50,176.76 477.00,176.78 477.50,176.80 478.00,176.82 478.50,176.84 479.00,176.86 479.50,176.88 480.00,176.89 480.50,176.91 481.00,176.93 481.50,176.95 482.00,176.97 482.50,176.99 483.00,177.00 483.50,177.02 484.00,177.03 484.50,177.05 485.00,177.07 485.50,177.08 486.00,177.10 486.50,177.11 487.00,177.12 487.50,177.14 488.00,177.15 488.50,177.17 489.00,177.18 489.50,177.19 490.00,177.21 490.50,177.22 491.00,177.24 491.50,177.25 492.00,177.27 492.50,177.28 493.00,177.29 493.50,177.31 494.00,177.32 494.50,177.34 495.00,177.35 495.50,177.36 496.00,177.38 496.50,177.39 497.00,177.41 497.50,177.42 498.00,177.44 498.50,177.45 499.00,177.46 499.50,177.48 500.00,177.49 500.50,177.51 501.00,177.52 501.50,177.53 502.00,177.55 502.50,177.56 503.00,177.58 503.50,177.59 504.00,177.60 504.50,177.62 505.00,177.63 505.50,177.65 506.00,177.66 506.50,177.68 507.00,177.69 507.50,177.70 508.00,177.72 508.50,177.73 509.00,177.75 509.50,177.76 510.00,177.77 510.50,177.79 511.00,177.80 511.50,177.82 512.00,177.83 512.50,177.84 513.00,177.86 513.50,177.87 514.00,177.89 514.50,177.90 515.00,177.91 515.50,177.92 516.00,177.94 516.50,177.95 517.00,177.96 517.50,177.97 518.00,177.97" fill="none" stroke="#1db356" stroke-width="1.3" stroke-linejoin="round" stroke-linecap="round" /><polyline points="388.50,220.56 389.00,220.52 389.50,220.47 390.00,220.42 390.50,220.36 391.00,220.30 391.50,220.24 392.00,220.17 392.50,220.10 393.00,220.03 393.50,219.96 394.00,219.89 394.50,219.81 395.00,219.74 395.50,219.67 396.00,219.59 396.50,219.52 397.00,219.44 397.50,219.37 398.00,219.29 398.50,219.22 399.00,219.14 399.50,219.07 400.00,218.99 400.50,218.92 401.00,218.84 401.50,218.76 402.00,218.69 402.50,218.61 403.00,218.53 403.50,218.46 404.00,218.38 404.50,218.30 405.00,218.22 405.50,218.15 406.00,218.07 406.50,217.99 407.00,217.91 407.50,217.83 408.00,217.75 408.50,217.66 409.00,217.58 409.50,217.48 410.00,217.39 410.50,217.29 411.00,217.18 411.50,217.07 412.00,216.95 412.50,216.82 413.00,216.69 413.50,216.55 414.00,216.40 414.50,216.26 415.00,216.11 415.50,215.95 416.00,215.80 416.50,215.64 417.00,215.48 417.50,215.32 418.00,215.17 418.50,215.01 419.00,214.85 419.50,214.69 420.00,214.53 420.50,214.36 421.00,214.20 421.50,214.03 422.00,213.86 422.50,213.69 423.00,213.51 423.50,213.32 424.00,213.13 424.50,212.92 425.00,212.72 425.50,212.50 426.00,212.28 426.50,212.05 427.00,211.81 427.50,211.57 428.00,211.32 428.50,211.06 429.00,210.80 429.50,210.53 430.00,210.25 430.50,209.96 431.00,209.66 431.50,209.34 432.00,209.02 432.50,208.68 433.00,208.33 433.50,207.98 434.00,207.61 434.50,207.24 435.00,206.86 435.50,206.49 436.00,206.11 436.50,205.74 437.00,205.37 437.50,205.01 438.00,204.65 438.50,204.31 439.00,203.98 439.50,203.67 440.00,203.36 440.50,203.07 441.00,202.78 441.50,202.51 442.00,202.25 442.50,201.99 443.00,201.75 443.50,201.51 444.00,201.29 444.50,201.08 445.00,200.88 445.50,200.70 446.00,200.53 446.50,200.38 447.00,200.24 447.50,200.12 448.00,200.01 448.50,199.91 449.00,199.82 449.50,199.74 450.00,199.67 450.50,199.60 451.00,199.54 451.50,199.48 452.00,199.42 452.50,199.36 453.00,199.30 453.50,199.24 454.00,199.18 454.50,199.12 455.00,199.06 455.50,199.00 456.00,198.95 456.50,198.89 457.00,198.83 457.50,198.78 458.00,198.72 458.50,198.67 459.00,198.62 459.50,198.57 460.00,198.52 460.50,198.47 461.00,198.42 461.50,198.37 462.00,198.32 462.50,198.28 463.00,198.23 463.50,198.19 464.00,198.14 464.50,198.10 465.00,198.05 465.50,198.00 466.00,197.96 466.50,197.91 467.00,197.87 467.50,197.82 468.00,197.77 468.50,197.72 469.00,197.67 469.50,197.61 470.00,197.56 470.50,197.50 471.00,197.44 471.50,197.38 472.00,197.32 472.50,197.25 473.00,197.19 473.50,197.12 474.00,197.06 474.50,196.99 475.00,196.93 475.50,196.86 476.00,196.79 476.50,196.72 477.00,196.66 477.50,196.59 478.00,196.52 478.50,196.45 479.00,196.39 479.50,196.32 480.00,196.25 480.50,196.19 481.00,196.12 481.50,196.06 482.00,196.00 482.50,195.93 483.00,195.87 483.50,195.81 484.00,195.75 484.50,195.69 485.00,195.63 485.50,195.58 486.00,195.52 486.50,195.46 487.00,195.40 487.50,195.35 488.00,195.29 488.50,195.23 489.00,195.18 489.50,195.12 490.00,195.06 490.50,195.01 491.00,194.95 491.50,194.89 492.00,194.84 492.50,194.78 493.00,194.72 493.50,194.67 494.00,194.61 494.50,194.56 495.00,194.50 495.50,194.44 496.00,194.39 496.50,194.33 497.00,194.27 497.50,194.22 498.00,194.16 498.50,194.10 499.00,194.05 499.50,193.99 500.00,193.93 500.50,193.88 501.00,193.82 501.50,193.76 502.00,193.71 502.50,193.65 503.00,193.59 503.50,193.54 504.00,193.48 504.50,193.43 505.00,193.37 505.50,193.31 506.00,193.26 506.50,193.20 507.00,193.14 507.50,193.09 508.00,193.03 508.50,192.97 509.00,192.92 509.50,192.86 510.00,192.80 510.50,192.75 511.00,192.69 511.50,192.63 512.00,192.58 512.50,192.52 513.00,192.47 513.50,192.41 514.00,192.36 514.50,192.30 515.00,192.25 515.50,192.20 516.00,192.16 516.50,192.11 517.00,192.07 517.50,192.04 518.00,192.01" fill="none" stroke="#35a0e6" stroke-width="1.3" stroke-linejoin="round" stroke-linecap="round" /><polyline points="388.50,241.39 389.00,241.36 389.50,241.32 390.00,241.28 390.50,241.23 391.00,241.19 391.50,241.14 392.00,241.08 392.50,241.03 393.00,240.97 393.50,240.91 394.00,240.86 394.50,240.80 395.00,240.74 395.50,240.68 396.00,240.62 396.50,240.56 397.00,240.51 397.50,240.45 398.00,240.39 398.50,240.33 399.00,240.27 399.50,240.21 400.00,240.16 400.50,240.10 401.00,240.04 401.50,239.98 402.00,239.92 402.50,239.86 403.00,239.81 403.50,239.75 404.00,239.69 404.50,239.63 405.00,239.57 405.50,239.51 406.00,239.45 406.50,239.40 407.00,239.34 407.50,239.28 408.00,239.22 408.50,239.16 409.00,239.10 409.50,239.04 410.00,238.98 410.50,238.91 411.00,238.85 411.50,238.79 412.00,238.72 412.50,238.65 413.00,238.58 413.50,238.52 414.00,238.45 414.50,238.38 415.00,238.30 415.50,238.23 416.00,238.16 416.50,238.09 417.00,238.02 417.50,237.94 418.00,237.87 418.50,237.80 419.00,237.73 419.50,237.65 420.00,237.58 420.50,237.50 421.00,237.43 421.50,237.35 422.00,237.27 422.50,237.18 423.00,237.10 423.50,237.01 424.00,236.92 424.50,236.82 425.00,236.72 425.50,236.61 426.00,236.51 426.50,236.40 427.00,236.28 427.50,236.17 428.00,236.05 428.50,235.93 429.00,235.81 429.50,235.68 430.00,235.56 430.50,235.43 431.00,235.29 431.50,235.16 432.00,235.01 432.50,234.87 433.00,234.72 433.50,234.56 434.00,234.39 434.50,234.22 435.00,234.04 435.50,233.85 436.00,233.65 436.50,233.44 437.00,233.22 437.50,233.00 438.00,232.77 438.50,232.54 439.00,232.31 439.50,232.07 440.00,231.84 440.50,231.61 441.00,231.37 441.50,231.15 442.00,230.93 442.50,230.71 443.00,230.50 443.50,230.29 444.00,230.09 444.50,229.90 445.00,229.72 445.50,229.54 446.00,229.37 446.50,229.22 447.00,229.07 447.50,228.93 448.00,228.80 448.50,228.68 449.00,228.56 449.50,228.45 450.00,228.34 450.50,228.24 451.00,228.15 451.50,228.06 452.00,227.97 452.50,227.89 453.00,227.82 453.50,227.76 454.00,227.70 454.50,227.65 455.00,227.60 455.50,227.56 456.00,227.52 456.50,227.49 457.00,227.46 457.50,227.44 458.00,227.41 458.50,227.39 459.00,227.37 459.50,227.35 460.00,227.32 460.50,227.30 461.00,227.28 461.50,227.26 462.00,227.24 462.50,227.22 463.00,227.20 463.50,227.18 464.00,227.15 464.50,227.13 465.00,227.11 465.50,227.09 466.00,227.07 466.50,227.05 467.00,227.03 467.50,227.01 468.00,226.99 468.50,226.97 469.00,226.95 469.50,226.93 470.00,226.92 470.50,226.90 471.00,226.89 471.50,226.87 472.00,226.86 472.50,226.84 473.00,226.83 473.50,226.82 474.00,226.81 474.50,226.79 475.00,226.78 475.50,226.77 476.00,226.76 476.50,226.75 477.00,226.73 477.50,226.72 478.00,226.71 478.50,226.70 479.00,226.69 479.50,226.68 480.00,226.67 480.50,226.66 481.00,226.65 481.50,226.65 482.00,226.64 482.50,226.64 483.00,226.64 483.50,226.63 484.00,226.64 484.50,226.64 485.00,226.64 485.50,226.65 486.00,226.65 486.50,226.66 487.00,226.66 487.50,226.67 488.00,226.68 488.50,226.68 489.00,226.69 489.50,226.70 490.00,226.70 490.50,226.71 491.00,226.72 491.50,226.73 492.00,226.73 492.50,226.74 493.00,226.75 493.50,226.75 494.00,226.76 494.50,226.77 495.00,226.78 495.50,226.78 496.00,226.79 496.50,226.80 497.00,226.80 497.50,226.81 498.00,226.82 498.50,226.82 499.00,226.83 499.50,226.84 500.00,226.85 500.50,226.85 501.00,226.86 501.50,226.87 502.00,226.87 502.50,226.88 503.00,226.89 503.50,226.90 504.00,226.90 504.50,226.91 505.00,226.92 505.50,226.92 506.00,226.93 506.50,226.94 507.00,226.94 507.50,226.95 508.00,226.96 508.50,226.97 509.00,226.97 509.50,226.98 510.00,226.99 510.50,226.99 511.00,227.00 511.50,227.01 512.00,227.02 512.50,227.02 513.00,227.03 513.50,227.04 514.00,227.04 514.50,227.05 515.00,227.06 515.50,227.06 516.00,227.07 516.50,227.07 517.00,227.08 517.50,227.08 518.00,227.09" fill="none" stroke="#f4be1a" stroke-width="1.3" stroke-linejoin="round" stroke-linecap="round" /><text x="391.20" y="163.60" font-size="7.7" text-anchor="start" fill="#111" stroke="#111" stroke-width="0.2" font-weight="normal" >90 °C</text><text x="391.20" y="187.80" font-size="7.7" text-anchor="start" fill="#111" stroke="#111" stroke-width="0.2" font-weight="normal" >75 °C</text><text x="391.20" y="215.00" font-size="7.7" text-anchor="start" fill="#111" stroke="#111" stroke-width="0.2" font-weight="normal" >60 °C</text><text x="391.20" y="237.50" font-size="7.7" text-anchor="start" fill="#111" stroke="#111" stroke-width="0.2" font-weight="normal" >45 °C</text><text x="515.40" y="167.40" font-size="8.0" text-anchor="end" fill="#111" stroke="#111" stroke-width="0.2" font-weight="normal" >-9.1 °C</text><text x="515.40" y="185.20" font-size="8.0" text-anchor="end" fill="#111" stroke="#111" stroke-width="0.2" font-weight="normal" >-12.1 °C</text><text x="515.40" y="205.40" font-size="8.0" text-anchor="end" fill="#111" stroke="#111" stroke-width="0.2" font-weight="normal" >-10.5 °C</text><text x="515.40" y="234.90" font-size="8.0" text-anchor="end" fill="#111" stroke="#111" stroke-width="0.2" font-weight="normal" >-9.2 °C</text><text x="380.00" y="195.30" font-size="9.4" text-anchor="middle" fill="#111" stroke="#111" stroke-width="0.2" font-weight="normal" transform="rotate(-90 380.0 195.3)" >Endo</text><line x1="378.10" y1="181.50" x2="378.10" y2="167.00" stroke="#111" stroke-width="1.1"/><polygon points="378.1,163.4 380.0,169 376.2,169" fill="#111"/>
</svg></body></html>
